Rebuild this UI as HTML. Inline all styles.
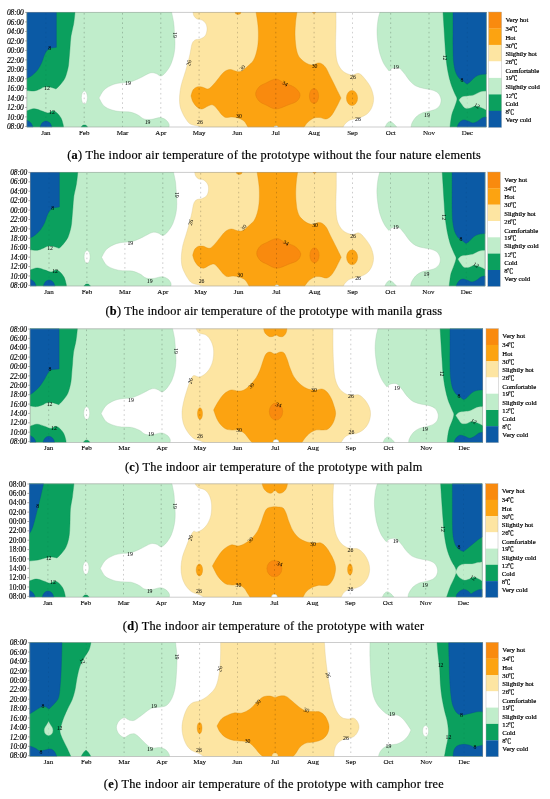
<!DOCTYPE html>
<html lang="en"><head><meta charset="utf-8"><title>Indoor air temperature of the prototype</title>
<style>
html,body{margin:0;padding:0;background:#fff;}
body{width:550px;height:799px;overflow:hidden;}
svg{display:block;}
text{font-family:"Liberation Serif","Noto Serif CJK SC",serif;fill:#1a1a1a;}
.yl{font-size:7.5px;font-style:italic;text-anchor:end;fill:#000;stroke:#000;stroke-width:0.15px;letter-spacing:-0.15px;}
.up{font-style:normal;letter-spacing:0;}
.ml{font-size:7px;text-anchor:middle;fill:#000;stroke:#000;stroke-width:0.1px;}
.lg{font-size:6.7px;fill:#000;stroke:#000;stroke-width:0.2px;}
.cl{font-size:5.8px;text-anchor:middle;fill:#000;}
.cap{font-size:12.3px;fill:#000;stroke:#000;stroke-width:0.18px;}
</style></head><body>
<svg width="550" height="799" viewBox="0 0 550 799">
<rect width="550" height="799" fill="#fff"/>
<clipPath id="cpa"><rect x="26.7" y="12" width="459.8" height="115.3"/></clipPath>
<g clip-path="url(#cpa)">
<rect x="26.7" y="12" width="459.8" height="115.3" fill="#fff"/>
<path d="M26.7,12L171.6,12C171.9,13.7 173.1,18.7 173.6,22C174.1,25.3 174.2,28.3 174.4,32C174.6,35.7 175.1,40.3 175,44C174.9,47.7 174.7,50.7 174,54C173.3,57.3 172.3,61 171,64C169.7,67 167.7,70 166,72C164.3,74 162.7,75.8 161,76C159.3,76.2 157.8,74 156,73.5C154.2,73 152.7,72.2 150,73C147.3,73.8 143.3,76.5 140,78C136.7,79.5 133.3,81.2 130,82C126.7,82.8 123,82.5 120,83C117,83.5 114.7,83.8 112,85C109.3,86.2 106.2,87.8 104,90C101.8,92.2 99.8,96.7 99,98C99.8,99.3 101.8,104 104,106C106.2,108 109.3,109.1 112,110C114.7,110.9 117,111.3 120,111.6C123,111.9 127,111.4 130,112C133,112.6 135.7,113.8 138,115C140.3,116.2 141.7,118.3 144,119C146.3,119.7 149.3,119.5 152,119.3C154.7,119.1 157.7,117.5 160,117.6C162.3,117.7 164.5,118.9 166,120C167.5,121.1 168.5,122.8 169,124C169.5,125.2 169,126.8 169,127.3L26.7,127.3Z" fill="#c0edcb" stroke="#a5cbae" stroke-width="0.35"/>
<ellipse cx="84.4" cy="97.6" rx="3" ry="6.5" fill="#fff" stroke="#a5cbae" stroke-width="0.35"/>
<path d="M380,12C379.7,13.3 378.5,16.7 378,20C377.5,23.3 377,28 377,32C377,36 377.5,40.3 378,44C378.5,47.7 379,50.7 380,54C381,57.3 382.5,61.2 384,64C385.5,66.8 388.2,69.8 389,71C389.7,70.5 391.3,68.5 393,68C394.7,67.5 397.2,67.2 399,68C400.8,68.8 402.2,70.8 404,73C405.8,75.2 408,78.8 410,81C412,83.2 413.7,84.8 416,86C418.3,87.2 421.3,87.8 424,88.5C426.7,89.2 429.7,89.2 432,90C434.3,90.8 436.5,91.5 438,93C439.5,94.5 440.7,97 441,99C441.3,101 440.8,103.3 440,105C439.2,106.7 437.7,108 436,109C434.3,110 432.3,110.3 430,111C427.7,111.7 424.3,112 422,113C419.7,114 417.7,115.3 416,117C414.3,118.7 412.8,121.3 412,123C411.2,124.7 411.2,126.6 411,127.3L486.5,127.3L486.5,12Z" fill="#c0edcb" stroke="#a5cbae" stroke-width="0.35"/>
<path d="M385,127.3C385.3,126.7 386.2,124.5 387,123.5C387.8,122.5 388.9,121.6 390,121.6C391.1,121.6 392.3,122.5 393.5,123.5C394.7,124.5 396.4,126.7 397,127.3Z" fill="#c0edcb" stroke="#a5cbae" stroke-width="0.35"/>
<path d="M193,12C193.2,12.7 193.3,14.8 194,16C194.7,17.2 195.7,18.3 197,19C198.3,19.7 200.5,19.2 202,20C203.5,20.8 205.2,22.3 206,24C206.8,25.7 207.2,28 207,30C206.8,32 206.2,34.5 205,36C203.8,37.5 201.7,38.3 200,39C198.3,39.7 196.3,39.2 195,40C193.7,40.8 192.8,41.7 192,44C191.2,46.3 190.8,50.3 190,54C189.2,57.7 188,62.3 187,66C186,69.7 185,72.7 184,76C183,79.3 181.7,82.7 181,86C180.3,89.3 179.8,92.7 179.6,96C179.4,99.3 179.4,103 180,106C180.6,109 181.7,111.3 183,114C184.3,116.7 186.5,120.2 188,122C189.5,123.8 190.5,124.2 192,124.8C193.5,125.4 195.3,125.4 197,125.8C198.7,126.2 201.2,127 202,127.3L343,127.3C343.3,126.8 343.8,125.2 345,124C346.2,122.8 347.7,121 350,120C352.3,119 356.2,119 359,118C361.8,117 364.8,115.8 367,114C369.2,112.2 370.9,109.7 372,107C373.1,104.3 373.8,101.2 373.6,98C373.4,94.8 372.4,91.2 371,88C369.6,84.8 367,81.4 365,79C363,76.6 361.2,74.2 359,73.5C356.8,72.8 354.5,75.2 352,75C349.5,74.8 346.2,73.5 344,72C341.8,70.5 340.3,68.3 339,66C337.7,63.7 337,61.7 336.4,58C335.8,54.3 335.7,49 335.6,44C335.5,39 335.9,33.3 336,28C336.1,22.7 336,14.7 336,12Z" fill="#fde5a2" stroke="#d9c48b" stroke-width="0.35"/>
<path d="M191,96C191.3,95 192,91.5 193,90C194,88.5 195.5,87.5 197,87C198.5,86.5 200.2,86.7 202,87C203.8,87.3 206.2,89.3 208,89C209.8,88.7 211.3,86.7 213,85C214.7,83.3 216.2,81.2 218,79C219.8,76.8 222,73.6 224,72C226,70.4 227.8,69.6 230,69.5C232.2,69.4 235,71.2 237,71.5C239,71.8 240.2,71.9 242,71C243.8,70.1 246.2,67.7 248,66C249.8,64.3 251.7,63 253,61C254.3,59 255.2,56.8 256,54C256.8,51.2 257.6,47.7 258,44C258.4,40.3 258.5,35.7 258.4,32C258.3,28.3 258,25.3 257.6,22C257.2,18.7 256.3,13.7 256,12L297,12C296.8,13.7 295.9,18.3 295.6,22C295.3,25.7 295,30.3 295,34C295,37.7 295.3,41 295.6,44C295.9,47 296.3,49.7 297,52C297.7,54.3 298.5,56.2 300,58C301.5,59.8 304,61.8 306,63C308,64.2 310,65 312,65C314,65 316.3,63.2 318,63C319.7,62.8 320.7,63.2 322,64C323.3,64.8 324.7,66 326,68C327.3,70 328.3,72.7 330,76C331.7,79.3 334.2,84.3 336,88C337.8,91.7 340.2,96.3 341,98C340.2,99.7 337.7,105 336,108C334.3,111 332.7,114.2 331,116C329.3,117.8 327.8,118.7 326,119C324.2,119.3 322,117.8 320,117.6C318,117.4 316,117.3 314,118C312,118.7 309.7,120.5 308,122C306.3,123.5 304.7,126.4 304,127.3L248,127.3C247.3,126.2 245.7,122.5 244,121C242.3,119.5 240,118.7 238,118C236,117.3 234,117.1 232,117C230,116.9 227.7,117.8 226,117.5C224.3,117.2 223.3,116.2 222,115C220.7,113.8 219.5,111.7 218,110C216.5,108.3 214.7,105.7 213,105C211.3,104.3 209.8,105.3 208,106C206.2,106.7 203.8,108.8 202,109C200.2,109.2 198.5,108.2 197,107C195.5,105.8 194,103.8 193,102C192,100.2 191.3,97 191,96Z" fill="#fca311" stroke="#d88c0e" stroke-width="0.35"/>
<ellipse cx="238" cy="12" rx="3" ry="2.4" fill="#fca311" stroke="#d88c0e" stroke-width="0.35"/>
<ellipse cx="314" cy="12" rx="1.6" ry="1.2" fill="#fca311" stroke="#d88c0e" stroke-width="0.35"/>
<ellipse cx="352" cy="98" rx="5.6" ry="7.6" fill="#fca311" stroke="#d88c0e" stroke-width="0.35"/>
<ellipse cx="276" cy="127.3" rx="2" ry="1.6" fill="#fff" stroke="#a5cbae" stroke-width="0.35"/>
<path d="M255.6,94C255.6,91.7 257.3,88.8 259,87C260.7,85.2 263.2,84.3 266,83C268.8,81.7 273,79 276,79C279,79 281,81.7 284,83C287,84.3 291.3,85.2 294,87C296.7,88.8 299.5,91.7 300,94C300.5,96.3 299,99.2 297,101C295,102.8 291.5,103.7 288,105C284.5,106.3 279.7,109 276,109C272.3,109 268.8,106.3 266,105C263.2,103.7 260.7,102.8 259,101C257.3,99.2 255.6,96.3 255.6,94Z" fill="#f98a0e" stroke="#d6760c" stroke-width="0.35"/>
<ellipse cx="314" cy="96" rx="4.6" ry="7.6" fill="#f98a0e" stroke="#d6760c" stroke-width="0.35"/>
<line x1="45.9" y1="13" x2="45.9" y2="127.3" stroke="#000" stroke-width="0.8" stroke-dasharray="1.6 3.1" opacity="0.19"/>
<line x1="84.2" y1="13" x2="84.2" y2="127.3" stroke="#000" stroke-width="0.8" stroke-dasharray="1.6 3.1" opacity="0.19"/>
<line x1="122.5" y1="13" x2="122.5" y2="127.3" stroke="#000" stroke-width="0.8" stroke-dasharray="1.6 3.1" opacity="0.19"/>
<line x1="160.8" y1="13" x2="160.8" y2="127.3" stroke="#000" stroke-width="0.8" stroke-dasharray="1.6 3.1" opacity="0.19"/>
<line x1="199.1" y1="13" x2="199.1" y2="127.3" stroke="#000" stroke-width="0.8" stroke-dasharray="1.6 3.1" opacity="0.19"/>
<line x1="237.4" y1="13" x2="237.4" y2="127.3" stroke="#000" stroke-width="0.8" stroke-dasharray="1.6 3.1" opacity="0.19"/>
<line x1="275.8" y1="13" x2="275.8" y2="127.3" stroke="#000" stroke-width="0.8" stroke-dasharray="1.6 3.1" opacity="0.19"/>
<line x1="314.1" y1="13" x2="314.1" y2="127.3" stroke="#000" stroke-width="0.8" stroke-dasharray="1.6 3.1" opacity="0.19"/>
<line x1="352.4" y1="13" x2="352.4" y2="127.3" stroke="#000" stroke-width="0.8" stroke-dasharray="1.6 3.1" opacity="0.19"/>
<line x1="390.7" y1="13" x2="390.7" y2="127.3" stroke="#000" stroke-width="0.8" stroke-dasharray="1.6 3.1" opacity="0.19"/>
<line x1="429" y1="13" x2="429" y2="127.3" stroke="#000" stroke-width="0.8" stroke-dasharray="1.6 3.1" opacity="0.19"/>
<line x1="467.3" y1="13" x2="467.3" y2="127.3" stroke="#000" stroke-width="0.8" stroke-dasharray="1.6 3.1" opacity="0.19"/>
<path d="M26.7,12L75,12C74.8,14 74.3,20 73.6,24C72.9,28 71.6,32 71,36C70.4,40 70.3,44 70,48C69.7,52 69.3,56.7 69,60C68.7,63.3 68.7,65 68,68C67.3,71 66.3,75.2 65,78C63.7,80.8 61.5,83.2 60,85C58.5,86.8 56.7,88.3 56,89C55,88.7 52,87.3 50,87C48,86.7 45.7,86.7 44,87C42.3,87.3 41.7,88.3 40,89C38.3,89.7 36.2,90.8 34,91C31.8,91.2 27.9,90.5 26.7,90.4Z" fill="#0ba05e" stroke="#098950" stroke-width="0.35"/>
<path d="M26.7,111C27.6,110.7 30.4,109.3 32,109C33.5,108.7 34.3,108.7 36,109C37.7,109.3 40,110.3 42,111C44,111.7 46.2,113 48,113C49.8,113 51.5,111 53,111C54.5,111 55.7,111.8 57,113C58.3,114.2 60,116.2 61,118C62,119.8 62.6,122.5 63,124C63.4,125.5 63.5,126.8 63.6,127.3L26.7,127.3Z" fill="#0ba05e" stroke="#098950" stroke-width="0.35"/>
<path d="M81,127.3C81.2,127 81.9,125.9 82.5,125.5C83.1,125.1 83.8,125 84.4,125C85,125 85.7,125.1 86.3,125.5C86.9,125.9 87.5,127 87.8,127.3Z" fill="#0ba05e" stroke="#098950" stroke-width="0.35"/>
<path d="M26.7,12L56.4,12L56.4,47.3L51,48C50.3,48.4 48.2,49.2 47,50.5C45.8,51.8 44.9,53.9 44,56C43.1,58.1 42.6,60.7 41.5,63C40.4,65.3 39.1,67.9 37.5,70C35.9,72.1 33.8,74.1 32,75.5C30.2,76.9 27.6,78 26.7,78.5Z" fill="#0b5aa5" stroke="#094d8d" stroke-width="0.35"/>
<path d="M26.7,120C27.4,120.5 29.9,121.8 31,123C32,124.2 32.7,126.6 33,127.3L26.7,127.3Z" fill="#0b5aa5" stroke="#094d8d" stroke-width="0.35"/>
<path d="M40,127.3C40.3,126.6 41,124 42,123C43,122 44.7,121 46,121C47.3,121 49,122 50,123C51,124 51.7,126.6 52,127.3Z" fill="#0b5aa5" stroke="#094d8d" stroke-width="0.35"/>
<path d="M443,12C443.2,14.7 443.7,22.7 444,28C444.3,33.3 444.7,39 445,44C445.3,49 445.5,53.3 446,58C446.5,62.7 447.2,67.7 448,72C448.8,76.3 449.8,80.3 451,84C452.2,87.7 454,91.5 455,94C456,96.5 457,97 457,99C457,101 455.8,103.5 455,106C454.2,108.5 452.7,111.3 452,114C451.3,116.7 450.9,119.8 450.6,122C450.3,124.2 450.1,126.4 450,127.3L486.5,127.3L486.5,12Z" fill="#0ba05e" stroke="#098950" stroke-width="0.35"/>
<path d="M453,12C453,14.7 453,22 453,28C453,34 452.9,42.3 453,48C453.1,53.7 453.2,58 453.6,62C454,66 454.7,69.3 455.6,72C456.5,74.7 457.8,76.5 459,78C460.2,79.5 461.7,80 463,81C464.3,82 466.3,83.5 467,84C467.5,83.7 468.8,83 470,82C471.2,81 472.5,79.2 474,78C475.5,76.8 476.9,75.7 479,75C481.1,74.3 485.2,74.2 486.5,74L486.5,12Z" fill="#0b5aa5" stroke="#094d8d" stroke-width="0.35"/>
<path d="M459,100C459.5,99.5 460.5,97.7 462,97C463.5,96.3 466,96.3 468,96C470,95.7 472,95.7 474,95C476,94.3 477.9,92.7 480,92C482.1,91.3 485.4,91.2 486.5,91L486.5,110C485.4,109.5 481.9,107.7 480,107C478.1,106.3 476.7,105.8 475,106C473.3,106.2 471.7,107.7 470,108C468.3,108.3 466.4,108.7 465,108C463.6,107.3 462.6,105.3 461.6,104C460.6,102.7 459.4,100.7 459,100Z" fill="#c0edcb" stroke="#a5cbae" stroke-width="0.35"/>
<path d="M457,127.3C457.3,126.6 458,124.2 459,123C460,121.8 461.5,120.3 463,120C464.5,119.7 466.3,120.5 468,121C469.7,121.5 471.3,123 473,123C474.7,123 476.5,121.8 478,121C479.5,120.2 480.6,118.7 482,118C483.4,117.3 485.8,117.2 486.5,117L486.5,127.3Z" fill="#0b5aa5" stroke="#094d8d" stroke-width="0.35"/>
<text class="cl" x="49.6" y="49.8">8</text>
<text class="cl" x="47" y="90.4">12</text>
<text class="cl" x="52" y="113.8">12</text>
<text class="cl" x="128" y="85.3">19</text>
<text class="cl" x="174.5" y="36.8" transform="rotate(90 174.5 35)">19</text>
<text class="cl" x="147.6" y="123.8">19</text>
<text class="cl" x="189" y="64.8" transform="rotate(-75 189 63)">26</text>
<text class="cl" x="200" y="123.8">26</text>
<text class="cl" x="242.6" y="69.8" transform="rotate(-45 242.6 68)">30</text>
<text class="cl" x="239" y="118.2">30</text>
<text class="cl" x="285" y="85.4" transform="rotate(30 285 83.6)">34</text>
<text class="cl" x="314.6" y="67.8">30</text>
<text class="cl" x="353" y="78.8">26</text>
<text class="cl" x="358" y="120.8">26</text>
<text class="cl" x="396" y="69.4">19</text>
<text class="cl" x="427" y="117.2">19</text>
<text class="cl" x="445" y="59.4" transform="rotate(90 445 57.6)">12</text>
<text class="cl" x="462" y="81.8">8</text>
<text class="cl" x="477" y="107.8" transform="rotate(30 477 106)">12</text>
<line x1="45.9" y1="13" x2="45.9" y2="127.3" stroke="#000" stroke-width="0.8" stroke-dasharray="1.6 3.1" opacity="0.07"/>
<line x1="84.2" y1="13" x2="84.2" y2="127.3" stroke="#000" stroke-width="0.8" stroke-dasharray="1.6 3.1" opacity="0.07"/>
<line x1="122.5" y1="13" x2="122.5" y2="127.3" stroke="#000" stroke-width="0.8" stroke-dasharray="1.6 3.1" opacity="0.07"/>
<line x1="160.8" y1="13" x2="160.8" y2="127.3" stroke="#000" stroke-width="0.8" stroke-dasharray="1.6 3.1" opacity="0.07"/>
<line x1="199.1" y1="13" x2="199.1" y2="127.3" stroke="#000" stroke-width="0.8" stroke-dasharray="1.6 3.1" opacity="0.07"/>
<line x1="237.4" y1="13" x2="237.4" y2="127.3" stroke="#000" stroke-width="0.8" stroke-dasharray="1.6 3.1" opacity="0.07"/>
<line x1="275.8" y1="13" x2="275.8" y2="127.3" stroke="#000" stroke-width="0.8" stroke-dasharray="1.6 3.1" opacity="0.07"/>
<line x1="314.1" y1="13" x2="314.1" y2="127.3" stroke="#000" stroke-width="0.8" stroke-dasharray="1.6 3.1" opacity="0.07"/>
<line x1="352.4" y1="13" x2="352.4" y2="127.3" stroke="#000" stroke-width="0.8" stroke-dasharray="1.6 3.1" opacity="0.07"/>
<line x1="390.7" y1="13" x2="390.7" y2="127.3" stroke="#000" stroke-width="0.8" stroke-dasharray="1.6 3.1" opacity="0.07"/>
<line x1="429" y1="13" x2="429" y2="127.3" stroke="#000" stroke-width="0.8" stroke-dasharray="1.6 3.1" opacity="0.07"/>
<line x1="467.3" y1="13" x2="467.3" y2="127.3" stroke="#000" stroke-width="0.8" stroke-dasharray="1.6 3.1" opacity="0.07"/>
</g>
<rect x="26.9" y="12.2" width="459.3" height="114.8" fill="none" stroke="#9a9a9a" stroke-width="0.5"/>
<line x1="25.1" y1="12.4" x2="26.7" y2="12.4" stroke="#555" stroke-width="0.5"/>
<text class="yl" x="23.7" y="15">08:00</text>
<line x1="25.1" y1="21.9" x2="26.7" y2="21.9" stroke="#555" stroke-width="0.5"/>
<text class="yl" x="23.7" y="24.5">06:00</text>
<line x1="25.1" y1="31.4" x2="26.7" y2="31.4" stroke="#555" stroke-width="0.5"/>
<text class="yl" x="23.7" y="34">04:00</text>
<line x1="25.1" y1="40.9" x2="26.7" y2="40.9" stroke="#555" stroke-width="0.5"/>
<text class="yl" x="23.7" y="43.5">02:00</text>
<line x1="25.1" y1="50.4" x2="26.7" y2="50.4" stroke="#555" stroke-width="0.5"/>
<text class="yl" x="23.7" y="53">00:00</text>
<line x1="25.1" y1="59.9" x2="26.7" y2="59.9" stroke="#555" stroke-width="0.5"/>
<text class="yl" x="23.7" y="62.5">22:00</text>
<line x1="25.1" y1="69.4" x2="26.7" y2="69.4" stroke="#555" stroke-width="0.5"/>
<text class="yl" x="23.7" y="72">20:00</text>
<line x1="25.1" y1="78.9" x2="26.7" y2="78.9" stroke="#555" stroke-width="0.5"/>
<text class="yl" x="23.7" y="81.5">18:00</text>
<line x1="25.1" y1="88.4" x2="26.7" y2="88.4" stroke="#555" stroke-width="0.5"/>
<text class="yl" x="23.7" y="91">16:00</text>
<line x1="25.1" y1="97.9" x2="26.7" y2="97.9" stroke="#555" stroke-width="0.5"/>
<text class="yl" x="23.7" y="100.5">14:00</text>
<line x1="25.1" y1="107.4" x2="26.7" y2="107.4" stroke="#555" stroke-width="0.5"/>
<text class="yl" x="23.7" y="110">12:00</text>
<line x1="25.1" y1="116.9" x2="26.7" y2="116.9" stroke="#555" stroke-width="0.5"/>
<text class="yl" x="23.7" y="119.5">10:00</text>
<line x1="25.1" y1="126.4" x2="26.7" y2="126.4" stroke="#555" stroke-width="0.5"/>
<text class="yl" x="23.7" y="129">08:00</text>
<text class="ml" x="45.9" y="134.9">Jan</text>
<text class="ml" x="84.2" y="134.9">Feb</text>
<text class="ml" x="122.5" y="134.9">Mar</text>
<text class="ml" x="160.8" y="134.9">Apr</text>
<text class="ml" x="199.1" y="134.9">May</text>
<text class="ml" x="237.4" y="134.9">Jun</text>
<text class="ml" x="275.8" y="134.9">Jul</text>
<text class="ml" x="314.1" y="134.9">Aug</text>
<text class="ml" x="352.4" y="134.9">Sep</text>
<text class="ml" x="390.7" y="134.9">Oct</text>
<text class="ml" x="429" y="134.9">Nov</text>
<text class="ml" x="467.3" y="134.9">Dec</text>
<rect x="488.6" y="12" width="13" height="16.7" fill="#f98a0e"/>
<rect x="488.6" y="28.5" width="13" height="16.7" fill="#fca311"/>
<rect x="488.6" y="44.9" width="13" height="16.7" fill="#fde5a2"/>
<rect x="488.6" y="61.4" width="13" height="16.7" fill="#ffffff"/>
<rect x="488.6" y="77.9" width="13" height="16.7" fill="#c0edcb"/>
<rect x="488.6" y="94.4" width="13" height="16.7" fill="#0ba05e"/>
<rect x="488.6" y="110.8" width="13" height="16.7" fill="#0b5aa5"/>
<rect x="488.6" y="12" width="13" height="115.3" fill="none" stroke="#aaa" stroke-width="0.4"/>
<text class="lg" x="505.4" y="21.6">Very hot</text>
<text class="lg" x="505.4" y="30.6">34<tspan dx="-0.7" font-size="6">℃</tspan></text>
<text class="lg" x="505.4" y="39.6">Hot</text>
<text class="lg" x="505.4" y="47.6">30<tspan dx="-0.7" font-size="6">℃</tspan></text>
<text class="lg" x="505.4" y="56">Slightly hot</text>
<text class="lg" x="505.4" y="64">26<tspan dx="-0.7" font-size="6">℃</tspan></text>
<text class="lg" x="505.4" y="73">Comfortable</text>
<text class="lg" x="505.4" y="80.4">19<tspan dx="-0.7" font-size="6">℃</tspan></text>
<text class="lg" x="505.4" y="88.9">Slightly cold</text>
<text class="lg" x="505.4" y="97.6">12<tspan dx="-0.7" font-size="6">℃</tspan></text>
<text class="lg" x="505.4" y="105.5">Cold</text>
<text class="lg" x="505.4" y="113.6">8<tspan dx="-0.7" font-size="6">℃</tspan></text>
<text class="lg" x="505.4" y="122">Very cold</text>
<clipPath id="cpb"><rect x="30" y="172" width="455.3" height="114.3"/></clipPath>
<g clip-path="url(#cpb)">
<rect x="30" y="172" width="455.3" height="114.3" fill="#fff"/>
<path d="M30,172L173.5,172C173.8,173.7 175,178.6 175.5,181.9C175.9,185.2 176,188.2 176.3,191.8C176.5,195.5 176.9,200.1 176.8,203.7C176.8,207.4 176.5,210.3 175.9,213.6C175.2,216.9 174.2,220.6 172.9,223.5C171.6,226.5 169.6,229.5 167.9,231.5C166.3,233.5 164.6,235.2 163,235.4C161.3,235.7 159.8,233.5 158,233C156.2,232.5 154.7,231.7 152.1,232.5C149.5,233.2 145.5,235.9 142.2,237.4C138.9,238.9 135.6,240.6 132.3,241.4C129,242.2 125.4,241.9 122.4,242.4C119.4,242.9 117.1,243.2 114.5,244.4C111.8,245.5 108.7,247.2 106.5,249.3C104.4,251.5 102.4,255.9 101.6,257.3C102.4,258.6 104.4,263.2 106.5,265.2C108.7,267.2 111.8,268.2 114.5,269.2C117.1,270.1 119.4,270.4 122.4,270.7C125.4,271.1 129.3,270.6 132.3,271.1C135.3,271.7 137.9,273 140.2,274.1C142.5,275.3 143.8,277.4 146.2,278.1C148.5,278.8 151.4,278.6 154.1,278.4C156.7,278.1 159.7,276.6 162,276.7C164.3,276.8 166.5,278 167.9,279.1C169.4,280.1 170.4,281.8 170.9,283C171.4,284.2 170.9,285.8 170.9,286.3L30,286.3Z" fill="#c0edcb" stroke="#a5cbae" stroke-width="0.35"/>
<ellipse cx="87.1" cy="256.9" rx="3" ry="6.4" fill="#fff" stroke="#a5cbae" stroke-width="0.35"/>
<path d="M379.8,172C379.5,173.3 378.4,176.6 377.9,179.9C377.4,183.2 376.9,187.9 376.9,191.8C376.9,195.8 377.4,200.1 377.9,203.7C378.4,207.4 378.9,210.3 379.8,213.6C380.8,216.9 382.3,220.7 383.8,223.5C385.3,226.4 387.9,229.3 388.8,230.5C389.4,230 391.1,228 392.7,227.5C394.4,227 396.8,226.7 398.7,227.5C400.5,228.3 401.8,230.3 403.6,232.5C405.4,234.6 407.6,238.3 409.5,240.4C411.5,242.5 413.2,244.1 415.5,245.4C417.8,246.6 420.8,247.2 423.4,247.8C426.1,248.5 429,248.6 431.3,249.3C433.6,250.1 435.8,250.8 437.3,252.3C438.8,253.8 439.9,256.3 440.2,258.2C440.6,260.2 440.1,262.5 439.3,264.2C438.4,265.8 436.9,267.2 435.3,268.2C433.6,269.2 431.7,269.5 429.4,270.1C427,270.8 423.7,271.1 421.4,272.1C419.1,273.1 417.1,274.4 415.5,276.1C413.8,277.7 412.4,280.3 411.5,282C410.7,283.7 410.7,285.6 410.5,286.3L485.3,286.3L485.3,172Z" fill="#c0edcb" stroke="#a5cbae" stroke-width="0.35"/>
<path d="M384.8,286.3C385.1,285.7 385.9,283.5 386.8,282.5C387.6,281.6 388.7,280.6 389.7,280.6C390.8,280.6 392.1,281.6 393.2,282.5C394.4,283.5 396.1,285.7 396.7,286.3Z" fill="#c0edcb" stroke="#a5cbae" stroke-width="0.35"/>
<path d="M194.7,172C194.8,172.7 195,174.8 195.7,176C196.3,177.1 197.3,178.3 198.6,178.9C200,179.6 202.1,179.1 203.6,179.9C205.1,180.8 206.7,182.2 207.5,183.9C208.4,185.5 208.7,187.9 208.5,189.8C208.4,191.8 207.7,194.3 206.6,195.8C205.4,197.3 203.3,198.1 201.6,198.8C200,199.4 198,198.9 196.7,199.8C195.3,200.6 194.5,201.4 193.7,203.7C192.9,206 192.5,210 191.7,213.6C190.9,217.3 189.7,221.9 188.7,225.5C187.7,229.2 186.8,232.1 185.8,235.4C184.8,238.7 183.5,242.1 182.8,245.4C182.1,248.7 181.6,252 181.4,255.3C181.2,258.6 181.2,262.2 181.8,265.2C182.4,268.2 183.5,270.5 184.8,273.1C186.1,275.8 188.2,279.3 189.7,281C191.2,282.8 192.2,283.2 193.7,283.8C195.2,284.4 197,284.4 198.6,284.8C200.3,285.2 202.8,286.1 203.6,286.3L343.2,286.3C343.5,285.8 344,284.2 345.2,283C346.3,281.8 347.8,280.1 350.1,279.1C352.4,278.1 356.2,278.1 359,277.1C361.9,276.1 364.8,274.9 367,273.1C369.1,271.3 370.8,268.8 371.9,266.2C373,263.5 373.7,260.4 373.5,257.3C373.3,254.1 372.3,250.5 370.9,247.3C369.5,244.2 367,240.8 365,238.4C363,236 361.2,233.6 359,233C356.9,232.3 354.6,234.7 352.1,234.5C349.6,234.2 346.3,233 344.2,231.5C342,230 340.5,227.8 339.2,225.5C338,223.2 337.2,221.2 336.7,217.6C336.1,214 335.9,208.7 335.9,203.7C335.8,198.8 336.2,193.1 336.3,187.9C336.3,182.6 336.3,174.6 336.3,172Z" fill="#fde5a2" stroke="#d9c48b" stroke-width="0.35"/>
<path d="M192.7,255.3C193,254.3 193.7,250.8 194.7,249.3C195.7,247.8 197.1,246.8 198.6,246.3C200.1,245.9 201.8,246 203.6,246.3C205.4,246.7 207.7,248.7 209.5,248.3C211.3,248 212.8,246 214.5,244.4C216.1,242.7 217.6,240.6 219.4,238.4C221.2,236.3 223.4,233 225.4,231.5C227.3,229.9 229.2,229.1 231.3,229C233.5,228.9 236.3,230.7 238.2,231C240.2,231.2 241.4,231.4 243.2,230.5C245,229.6 247.3,227.2 249.1,225.5C250.9,223.9 252.8,222.6 254.1,220.6C255.4,218.6 256.2,216.4 257.1,213.6C257.9,210.8 258.6,207.4 259,203.7C259.4,200.1 259.5,195.5 259.4,191.8C259.4,188.2 259,185.2 258.6,181.9C258.2,178.6 257.3,173.7 257.1,172L297.7,172C297.4,173.7 296.6,178.3 296.3,181.9C295.9,185.5 295.7,190.2 295.7,193.8C295.7,197.4 295.9,200.7 296.3,203.7C296.6,206.7 296.9,209.3 297.7,211.7C298.4,214 299.1,215.8 300.6,217.6C302.1,219.4 304.6,221.4 306.6,222.6C308.5,223.7 310.5,224.5 312.5,224.5C314.5,224.5 316.8,222.7 318.4,222.6C320.1,222.4 321.1,222.7 322.4,223.5C323.7,224.4 325.1,225.5 326.4,227.5C327.7,229.5 328.7,232.1 330.3,235.4C332,238.7 334.5,243.7 336.3,247.3C338.1,251 340.4,255.6 341.2,257.3C340.4,258.9 337.9,264.2 336.3,267.2C334.6,270.1 333,273.3 331.3,275.1C329.7,276.9 328.2,277.8 326.4,278.1C324.6,278.3 322.4,276.8 320.4,276.7C318.4,276.5 316.5,276.4 314.5,277.1C312.5,277.8 310.2,279.5 308.5,281C306.9,282.6 305.2,285.4 304.6,286.3L249.1,286.3C248.5,285.3 246.8,281.6 245.2,280.1C243.5,278.5 241.2,277.7 239.2,277.1C237.3,276.4 235.3,276.2 233.3,276.1C231.3,276 229,276.9 227.3,276.6C225.7,276.3 224.7,275.3 223.4,274.1C222.1,272.9 220.9,270.8 219.4,269.2C217.9,267.5 216.1,264.9 214.5,264.2C212.8,263.5 211.3,264.5 209.5,265.2C207.7,265.8 205.4,268 203.6,268.2C201.8,268.3 200.1,267.3 198.6,266.2C197.1,265 195.7,263 194.7,261.2C193.7,259.4 193,256.3 192.7,255.3Z" fill="#fca311" stroke="#d88c0e" stroke-width="0.35"/>
<ellipse cx="239.2" cy="172" rx="3" ry="2.4" fill="#fca311" stroke="#d88c0e" stroke-width="0.35"/>
<ellipse cx="314.5" cy="172" rx="1.6" ry="1.2" fill="#fca311" stroke="#d88c0e" stroke-width="0.35"/>
<ellipse cx="352.1" cy="257.3" rx="5.5" ry="7.5" fill="#fca311" stroke="#d88c0e" stroke-width="0.35"/>
<ellipse cx="276.9" cy="286.3" rx="2" ry="1.6" fill="#fff" stroke="#a5cbae" stroke-width="0.35"/>
<path d="M256.7,253.3C256.7,251 258.3,248.2 260,246.3C261.7,244.5 264.2,243.7 267,242.4C269.8,241.1 273.9,238.4 276.9,238.4C279.8,238.4 281.8,241.1 284.8,242.4C287.8,243.7 292,244.5 294.7,246.3C297.3,248.2 300.1,251 300.6,253.3C301.1,255.6 299.6,258.4 297.7,260.2C295.7,262 292.2,262.9 288.7,264.2C285.3,265.5 280.5,268.2 276.9,268.2C273.2,268.2 269.8,265.5 267,264.2C264.2,262.9 261.7,262 260,260.2C258.3,258.4 256.7,255.6 256.7,253.3Z" fill="#f98a0e" stroke="#d6760c" stroke-width="0.35"/>
<ellipse cx="314.5" cy="255.3" rx="4.6" ry="7.5" fill="#f98a0e" stroke="#d6760c" stroke-width="0.35"/>
<line x1="49" y1="173" x2="49" y2="286.3" stroke="#000" stroke-width="0.8" stroke-dasharray="1.6 3.1" opacity="0.19"/>
<line x1="86.9" y1="173" x2="86.9" y2="286.3" stroke="#000" stroke-width="0.8" stroke-dasharray="1.6 3.1" opacity="0.19"/>
<line x1="124.9" y1="173" x2="124.9" y2="286.3" stroke="#000" stroke-width="0.8" stroke-dasharray="1.6 3.1" opacity="0.19"/>
<line x1="162.8" y1="173" x2="162.8" y2="286.3" stroke="#000" stroke-width="0.8" stroke-dasharray="1.6 3.1" opacity="0.19"/>
<line x1="200.7" y1="173" x2="200.7" y2="286.3" stroke="#000" stroke-width="0.8" stroke-dasharray="1.6 3.1" opacity="0.19"/>
<line x1="238.7" y1="173" x2="238.7" y2="286.3" stroke="#000" stroke-width="0.8" stroke-dasharray="1.6 3.1" opacity="0.19"/>
<line x1="276.6" y1="173" x2="276.6" y2="286.3" stroke="#000" stroke-width="0.8" stroke-dasharray="1.6 3.1" opacity="0.19"/>
<line x1="314.6" y1="173" x2="314.6" y2="286.3" stroke="#000" stroke-width="0.8" stroke-dasharray="1.6 3.1" opacity="0.19"/>
<line x1="352.5" y1="173" x2="352.5" y2="286.3" stroke="#000" stroke-width="0.8" stroke-dasharray="1.6 3.1" opacity="0.19"/>
<line x1="390.4" y1="173" x2="390.4" y2="286.3" stroke="#000" stroke-width="0.8" stroke-dasharray="1.6 3.1" opacity="0.19"/>
<line x1="428.4" y1="173" x2="428.4" y2="286.3" stroke="#000" stroke-width="0.8" stroke-dasharray="1.6 3.1" opacity="0.19"/>
<line x1="466.3" y1="173" x2="466.3" y2="286.3" stroke="#000" stroke-width="0.8" stroke-dasharray="1.6 3.1" opacity="0.19"/>
<path d="M30,172L77.8,172C77.6,174 77.1,179.9 76.4,183.9C75.8,187.9 74.5,191.8 73.9,195.8C73.3,199.8 73.2,203.7 72.9,207.7C72.5,211.7 72.2,216.3 71.9,219.6C71.6,222.9 71.6,224.5 70.9,227.5C70.2,230.5 69.2,234.6 67.9,237.4C66.6,240.2 64.5,242.5 63,244.4C61.5,246.2 59.7,247.7 59,248.3C58,248 55.1,246.7 53.1,246.3C51.1,246 48.8,246 47.1,246.3C45.5,246.7 44.8,247.7 43.2,248.3C41.5,249 39.4,250.1 37.2,250.3C35,250.5 31.2,249.8 30,249.7Z" fill="#0ba05e" stroke="#098950" stroke-width="0.35"/>
<path d="M30,270.1C30.9,269.8 33.7,268.5 35.2,268.2C36.8,267.8 37.6,267.8 39.2,268.2C40.9,268.5 43.2,269.5 45.2,270.1C47.1,270.8 49.3,272.1 51.1,272.1C52.9,272.1 54.6,270.1 56,270.1C57.5,270.1 58.7,271 60,272.1C61.3,273.3 63,275.3 64,277.1C65,278.9 65.5,281.5 65.9,283C66.4,284.6 66.4,285.8 66.5,286.3L30,286.3Z" fill="#0ba05e" stroke="#098950" stroke-width="0.35"/>
<path d="M83.8,286.3C84,286 84.7,284.9 85.3,284.5C85.8,284.1 86.5,284 87.1,284C87.8,284 88.5,284.1 89,284.5C89.6,284.9 90.3,286 90.5,286.3Z" fill="#0ba05e" stroke="#098950" stroke-width="0.35"/>
<path d="M30,172L59.4,172L59.4,207L54.1,207.7C53.4,208.1 51.3,208.8 50.1,210.2C48.9,211.5 48,213.6 47.1,215.6C46.2,217.7 45.7,220.2 44.7,222.6C43.6,224.9 42.3,227.4 40.7,229.5C39.1,231.6 37,233.5 35.2,234.9C33.5,236.4 30.9,237.4 30,237.9Z" fill="#0b5aa5" stroke="#094d8d" stroke-width="0.35"/>
<path d="M30,279.1C30.7,279.6 33.2,280.8 34.3,282C35.3,283.2 35.9,285.6 36.2,286.3L30,286.3Z" fill="#0b5aa5" stroke="#094d8d" stroke-width="0.35"/>
<path d="M43.2,286.3C43.5,285.6 44.2,283.1 45.2,282C46.1,281 47.8,280.1 49.1,280.1C50.4,280.1 52.1,281 53.1,282C54.1,283.1 54.7,285.6 55.1,286.3Z" fill="#0b5aa5" stroke="#094d8d" stroke-width="0.35"/>
<path d="M442.2,172C442.4,174.6 442.9,182.6 443.2,187.9C443.5,193.1 443.9,198.8 444.2,203.7C444.5,208.7 444.7,213 445.2,217.6C445.7,222.2 446.4,227.2 447.2,231.5C448,235.8 449,239.7 450.1,243.4C451.3,247 453.1,250.8 454.1,253.3C455.1,255.8 456.1,256.3 456.1,258.2C456.1,260.2 454.9,262.7 454.1,265.2C453.3,267.7 451.9,270.5 451.1,273.1C450.4,275.8 450.1,278.8 449.8,281C449.4,283.2 449.3,285.4 449.2,286.3L485.3,286.3L485.3,172Z" fill="#0ba05e" stroke="#098950" stroke-width="0.35"/>
<path d="M452.1,172C452.1,174.6 452.1,181.9 452.1,187.9C452.1,193.8 452,202.1 452.1,207.7C452.2,213.3 452.3,217.6 452.7,221.6C453.2,225.5 453.8,228.8 454.7,231.5C455.6,234.1 456.8,235.9 458.1,237.4C459.3,238.9 460.7,239.4 462,240.4C463.4,241.4 465.3,242.9 466,243.4C466.5,243 467.8,242.4 469,241.4C470.1,240.4 471.4,238.6 472.9,237.4C474.4,236.3 475.8,235.1 477.9,234.5C479.9,233.8 484.1,233.6 485.3,233.5L485.3,172Z" fill="#0b5aa5" stroke="#094d8d" stroke-width="0.35"/>
<path d="M458.1,259.2C458.6,258.7 459.6,256.9 461,256.3C462.5,255.6 465,255.6 467,255.3C469,254.9 470.9,254.9 472.9,254.3C474.9,253.6 476.8,252 478.9,251.3C480.9,250.6 484.2,250.5 485.3,250.3L485.3,269.2C484.2,268.7 480.8,266.8 478.9,266.2C477,265.5 475.6,265 473.9,265.2C472.3,265.3 470.6,266.8 469,267.2C467.3,267.5 465.4,267.8 464,267.2C462.6,266.5 461.6,264.5 460.6,263.2C459.7,261.9 458.5,259.9 458.1,259.2Z" fill="#c0edcb" stroke="#a5cbae" stroke-width="0.35"/>
<path d="M456.1,286.3C456.4,285.6 457.1,283.2 458.1,282C459.1,280.8 460.5,279.4 462,279.1C463.5,278.7 465.3,279.6 467,280.1C468.6,280.6 470.3,282 471.9,282C473.6,282 475.4,280.9 476.9,280.1C478.4,279.2 479.4,277.7 480.8,277.1C482.2,276.4 484.6,276.3 485.3,276.1L485.3,286.3Z" fill="#0b5aa5" stroke="#094d8d" stroke-width="0.35"/>
<text class="cl" x="52.7" y="209.5">8</text>
<text class="cl" x="50.1" y="249.7">12</text>
<text class="cl" x="55.1" y="272.9">12</text>
<text class="cl" x="130.3" y="244.7">19</text>
<text class="cl" x="176.4" y="196.6" transform="rotate(90 176.4 194.8)">19</text>
<text class="cl" x="149.7" y="282.8">19</text>
<text class="cl" x="190.7" y="224.4" transform="rotate(-75 190.7 222.6)">26</text>
<text class="cl" x="201.6" y="282.8">26</text>
<text class="cl" x="243.8" y="229.3" transform="rotate(-45 243.8 227.5)">30</text>
<text class="cl" x="240.2" y="277.3">30</text>
<text class="cl" x="285.8" y="244.8" transform="rotate(30 285.8 243)">34</text>
<text class="cl" x="315.1" y="227.3">30</text>
<text class="cl" x="353.1" y="238.2">26</text>
<text class="cl" x="358.1" y="279.9">26</text>
<text class="cl" x="395.7" y="228.9">19</text>
<text class="cl" x="426.4" y="276.3">19</text>
<text class="cl" x="444.2" y="219" transform="rotate(90 444.2 217.2)">12</text>
<text class="cl" x="461" y="241.2">8</text>
<text class="cl" x="475.9" y="267" transform="rotate(30 475.9 265.2)">12</text>
<line x1="49" y1="173" x2="49" y2="286.3" stroke="#000" stroke-width="0.8" stroke-dasharray="1.6 3.1" opacity="0.07"/>
<line x1="86.9" y1="173" x2="86.9" y2="286.3" stroke="#000" stroke-width="0.8" stroke-dasharray="1.6 3.1" opacity="0.07"/>
<line x1="124.9" y1="173" x2="124.9" y2="286.3" stroke="#000" stroke-width="0.8" stroke-dasharray="1.6 3.1" opacity="0.07"/>
<line x1="162.8" y1="173" x2="162.8" y2="286.3" stroke="#000" stroke-width="0.8" stroke-dasharray="1.6 3.1" opacity="0.07"/>
<line x1="200.7" y1="173" x2="200.7" y2="286.3" stroke="#000" stroke-width="0.8" stroke-dasharray="1.6 3.1" opacity="0.07"/>
<line x1="238.7" y1="173" x2="238.7" y2="286.3" stroke="#000" stroke-width="0.8" stroke-dasharray="1.6 3.1" opacity="0.07"/>
<line x1="276.6" y1="173" x2="276.6" y2="286.3" stroke="#000" stroke-width="0.8" stroke-dasharray="1.6 3.1" opacity="0.07"/>
<line x1="314.6" y1="173" x2="314.6" y2="286.3" stroke="#000" stroke-width="0.8" stroke-dasharray="1.6 3.1" opacity="0.07"/>
<line x1="352.5" y1="173" x2="352.5" y2="286.3" stroke="#000" stroke-width="0.8" stroke-dasharray="1.6 3.1" opacity="0.07"/>
<line x1="390.4" y1="173" x2="390.4" y2="286.3" stroke="#000" stroke-width="0.8" stroke-dasharray="1.6 3.1" opacity="0.07"/>
<line x1="428.4" y1="173" x2="428.4" y2="286.3" stroke="#000" stroke-width="0.8" stroke-dasharray="1.6 3.1" opacity="0.07"/>
<line x1="466.3" y1="173" x2="466.3" y2="286.3" stroke="#000" stroke-width="0.8" stroke-dasharray="1.6 3.1" opacity="0.07"/>
</g>
<rect x="30.2" y="172.2" width="454.8" height="113.8" fill="none" stroke="#9a9a9a" stroke-width="0.5"/>
<line x1="28.4" y1="172.4" x2="30" y2="172.4" stroke="#555" stroke-width="0.5"/>
<text class="yl" x="27" y="175">08:00</text>
<line x1="28.4" y1="181.8" x2="30" y2="181.8" stroke="#555" stroke-width="0.5"/>
<text class="yl" x="27" y="184.4">06:00</text>
<line x1="28.4" y1="191.2" x2="30" y2="191.2" stroke="#555" stroke-width="0.5"/>
<text class="yl" x="27" y="193.8">04:00</text>
<line x1="28.4" y1="200.7" x2="30" y2="200.7" stroke="#555" stroke-width="0.5"/>
<text class="yl" x="27" y="203.2">02:00</text>
<line x1="28.4" y1="210.1" x2="30" y2="210.1" stroke="#555" stroke-width="0.5"/>
<text class="yl" x="27" y="212.7">00:00</text>
<line x1="28.4" y1="219.5" x2="30" y2="219.5" stroke="#555" stroke-width="0.5"/>
<text class="yl" x="27" y="222.1">22:00</text>
<line x1="28.4" y1="228.9" x2="30" y2="228.9" stroke="#555" stroke-width="0.5"/>
<text class="yl" x="27" y="231.5">20:00</text>
<line x1="28.4" y1="238.3" x2="30" y2="238.3" stroke="#555" stroke-width="0.5"/>
<text class="yl" x="27" y="240.9">18:00</text>
<line x1="28.4" y1="247.7" x2="30" y2="247.7" stroke="#555" stroke-width="0.5"/>
<text class="yl" x="27" y="250.3">16:00</text>
<line x1="28.4" y1="257.2" x2="30" y2="257.2" stroke="#555" stroke-width="0.5"/>
<text class="yl" x="27" y="259.8">14:00</text>
<line x1="28.4" y1="266.6" x2="30" y2="266.6" stroke="#555" stroke-width="0.5"/>
<text class="yl" x="27" y="269.2">12:00</text>
<line x1="28.4" y1="276" x2="30" y2="276" stroke="#555" stroke-width="0.5"/>
<text class="yl" x="27" y="278.6">10:00</text>
<line x1="28.4" y1="285.4" x2="30" y2="285.4" stroke="#555" stroke-width="0.5"/>
<text class="yl" x="27" y="288">08:00</text>
<text class="ml" x="49" y="293.9">Jan</text>
<text class="ml" x="86.9" y="293.9">Feb</text>
<text class="ml" x="124.9" y="293.9">Mar</text>
<text class="ml" x="162.8" y="293.9">Apr</text>
<text class="ml" x="200.7" y="293.9">May</text>
<text class="ml" x="238.7" y="293.9">Jun</text>
<text class="ml" x="276.6" y="293.9">Jul</text>
<text class="ml" x="314.6" y="293.9">Aug</text>
<text class="ml" x="352.5" y="293.9">Sep</text>
<text class="ml" x="390.4" y="293.9">Oct</text>
<text class="ml" x="428.4" y="293.9">Nov</text>
<text class="ml" x="466.3" y="293.9">Dec</text>
<rect x="487.8" y="172" width="12.5" height="16.5" fill="#f98a0e"/>
<rect x="487.8" y="188.3" width="12.5" height="16.5" fill="#fca311"/>
<rect x="487.8" y="204.7" width="12.5" height="16.5" fill="#fde5a2"/>
<rect x="487.8" y="221" width="12.5" height="16.5" fill="#ffffff"/>
<rect x="487.8" y="237.3" width="12.5" height="16.5" fill="#c0edcb"/>
<rect x="487.8" y="253.6" width="12.5" height="16.5" fill="#0ba05e"/>
<rect x="487.8" y="270" width="12.5" height="16.5" fill="#0b5aa5"/>
<rect x="487.8" y="172" width="12.5" height="114.3" fill="none" stroke="#aaa" stroke-width="0.4"/>
<text class="lg" x="504.3" y="181.5">Very hot</text>
<text class="lg" x="504.3" y="190.5">34<tspan dx="-0.7" font-size="6">℃</tspan></text>
<text class="lg" x="504.3" y="199.4">Hot</text>
<text class="lg" x="504.3" y="207.3">30<tspan dx="-0.7" font-size="6">℃</tspan></text>
<text class="lg" x="504.3" y="215.6">Slightly hot</text>
<text class="lg" x="504.3" y="223.6">26<tspan dx="-0.7" font-size="6">℃</tspan></text>
<text class="lg" x="504.3" y="232.5">Comfortable</text>
<text class="lg" x="504.3" y="239.8">19<tspan dx="-0.7" font-size="6">℃</tspan></text>
<text class="lg" x="504.3" y="248.3">Slightly cold</text>
<text class="lg" x="504.3" y="256.9">12<tspan dx="-0.7" font-size="6">℃</tspan></text>
<text class="lg" x="504.3" y="264.8">Cold</text>
<text class="lg" x="504.3" y="272.8">8<tspan dx="-0.7" font-size="6">℃</tspan></text>
<text class="lg" x="504.3" y="281.1">Very cold</text>
<clipPath id="cpc"><rect x="29.8" y="328.6" width="453.2" height="113.9"/></clipPath>
<g clip-path="url(#cpc)">
<rect x="29.8" y="328.6" width="453.2" height="113.9" fill="#fff"/>
<path d="M29.8,328.6L172.6,328.6C172.9,330.2 174.1,335.2 174.6,338.5C175.1,341.8 175.1,344.7 175.4,348.4C175.6,352 176,356.6 176,360.2C175.9,363.8 175.6,366.8 175,370.1C174.3,373.4 173.3,377 172,380C170.7,382.9 168.7,385.9 167.1,387.9C165.5,389.8 163.8,391.6 162.2,391.8C160.5,392.1 159.1,389.8 157.2,389.4C155.4,388.9 154,388.1 151.3,388.9C148.7,389.6 144.8,392.3 141.5,393.8C138.2,395.3 134.9,396.9 131.6,397.8C128.3,398.6 124.7,398.2 121.8,398.7C118.8,399.2 116.5,399.6 113.9,400.7C111.2,401.9 108.1,403.5 106,405.7C103.9,407.8 101.9,412.2 101.1,413.6C101.9,414.9 103.9,419.5 106,421.5C108.1,423.4 111.2,424.5 113.9,425.4C116.5,426.3 118.8,426.7 121.8,427C124.7,427.3 128.7,426.8 131.6,427.4C134.6,427.9 137.2,429.2 139.5,430.3C141.8,431.5 143.1,433.6 145.4,434.3C147.7,435 150.7,434.8 153.3,434.6C155.9,434.4 158.9,432.8 161.2,432.9C163.5,433 165.6,434.2 167.1,435.3C168.6,436.3 169.6,438 170.1,439.2C170.6,440.4 170.1,442 170.1,442.5L29.8,442.5Z" fill="#c0edcb" stroke="#a5cbae" stroke-width="0.35"/>
<ellipse cx="86.7" cy="413.2" rx="3" ry="6.4" fill="#fff" stroke="#a5cbae" stroke-width="0.35"/>
<path d="M378,328.6C377.7,329.9 376.6,333.2 376.1,336.5C375.6,339.8 375.1,344.4 375.1,348.4C375.1,352.3 375.6,356.6 376.1,360.2C376.6,363.8 377,366.8 378,370.1C379,373.4 380.5,377.2 382,380C383.4,382.8 386.1,385.7 386.9,386.9C387.6,386.4 389.2,384.4 390.8,383.9C392.5,383.4 394.9,383.1 396.8,383.9C398.6,384.7 399.9,386.7 401.7,388.9C403.5,391 405.6,394.6 407.6,396.8C409.6,398.9 411.2,400.5 413.5,401.7C415.8,402.9 418.8,403.5 421.4,404.2C424,404.8 427,404.9 429.3,405.7C431.6,406.4 433.7,407.1 435.2,408.6C436.7,410.1 437.8,412.6 438.2,414.5C438.5,416.5 438,418.8 437.2,420.5C436.3,422.1 434.9,423.4 433.2,424.4C431.6,425.4 429.6,425.7 427.3,426.4C425,427.1 421.7,427.4 419.4,428.4C417.1,429.4 415.2,430.7 413.5,432.3C411.9,434 410.4,436.6 409.6,438.3C408.7,439.9 408.7,441.8 408.6,442.5L483,442.5L483,328.6Z" fill="#c0edcb" stroke="#a5cbae" stroke-width="0.35"/>
<path d="M383,442.5C383.3,441.9 384.1,439.7 384.9,438.7C385.7,437.8 386.8,436.9 387.9,436.9C389,436.9 390.2,437.8 391.3,438.7C392.5,439.7 394.2,441.9 394.8,442.5Z" fill="#c0edcb" stroke="#a5cbae" stroke-width="0.35"/>
<path d="M196,328.6C196.5,329.3 197.3,331.9 199,333C200.7,334.1 204,333.7 206,335C208,336.3 209.7,338.5 211,341C212.3,343.5 213.3,346.8 213.6,350C213.9,353.2 213.6,357 213,360C212.4,363 211.3,365.7 210,368C208.7,370.3 206.8,372.5 205,374C203.2,375.5 200.8,376.8 199,377C197.2,377.2 195.3,375.2 194,375.5C192.7,375.8 192.2,376.6 191,379C189.8,381.4 188.2,386.2 187,390C185.8,393.8 184.4,398.3 183.6,402C182.8,405.7 182.1,408.7 182,412C181.9,415.3 182.2,418.8 183,422C183.8,425.2 185.3,428.3 187,431C188.7,433.7 191,436.4 193,438C195,439.6 197,439.8 199,440.5C201,441.2 204,442.2 205,442.5L341,442.5C341.7,441.6 343.5,438.4 345,437C346.5,435.6 348.2,435 350,434.4C351.8,433.8 353.8,434.3 356,433.6C358.2,432.9 361,431.6 363,430C365,428.4 366.8,426.3 368,424C369.2,421.7 370.1,418.7 370.4,416C370.7,413.3 370.5,410.7 369.6,408C368.7,405.3 366.8,402.2 365,400C363.2,397.8 361,395.8 359,395C357,394.2 355.2,395.2 353,395C350.8,394.8 348.3,395.2 346,394C343.7,392.8 340.8,390.7 339,388C337.2,385.3 335.9,382 335,378C334.1,374 333.9,369 333.6,364C333.3,359 333.1,353.9 333,348C332.9,342.1 333,331.8 333,328.6Z" fill="#fde5a2" stroke="#d9c48b" stroke-width="0.35"/>
<path d="M263.6,328.6C263.8,329.3 264.1,331.7 265,333C265.9,334.3 267.7,335.8 269,336.4C270.3,337 271.8,336.6 273,336.4C274.2,336.2 275,335 276,335C277,335 277.8,336.2 279,336.4C280.2,336.6 281.8,337 283,336.4C284.2,335.8 285.3,334.3 286,333C286.7,331.7 286.8,329.3 287,328.6Z" fill="#fca311" stroke="#d88c0e" stroke-width="0.35"/>
<path d="M213.6,410C214.3,408.7 216.3,404.7 218,402C219.7,399.3 221.8,396 224,394C226.2,392 228.7,390.5 231,390C233.3,389.5 235.8,391 238,391C240.2,391 242,391 244,390C246,389 248,387 250,385C252,383 254.3,380.5 256,378C257.7,375.5 258.8,372.8 260,370C261.2,367.2 262,363.7 263,361C264,358.3 264.8,355.5 266,354C267.2,352.5 268.5,352 270,352C271.5,352 273.3,354 275,354C276.7,354 278.5,352.2 280,352C281.5,351.8 282.8,351.8 284,353C285.2,354.2 286,356.5 287,359C288,361.5 288.8,365 290,368C291.2,371 292.3,374.3 294,377C295.7,379.7 297.7,382 300,384C302.3,386 305.3,388 308,389C310.7,390 313.7,390 316,390C318.3,390 320.2,388.7 322,389C323.8,389.3 325.5,390.5 327,392C328.5,393.5 329.8,395.7 331,398C332.2,400.3 333.2,403.3 334,406C334.8,408.7 335.8,411.2 335.6,414C335.4,416.8 334.3,420.5 333,423C331.7,425.5 329.8,427.8 328,429C326.2,430.2 324,429.8 322,430C320,430.2 318,429.5 316,430C314,430.5 311.8,431.7 310,433C308.2,434.3 306.3,436.4 305,438C303.7,439.6 302.5,441.8 302,442.5L252,442.5C251.5,441.9 250.3,440.6 249,439C247.7,437.4 245.8,434.5 244,433C242.2,431.5 240,430.5 238,430C236,429.5 234,430.2 232,430C230,429.8 227.8,429.8 226,429C224.2,428.2 222.5,426.7 221,425C219.5,423.3 218.2,421.5 217,419C215.8,416.5 214.2,411.5 213.6,410Z" fill="#fca311" stroke="#d88c0e" stroke-width="0.35"/>
<ellipse cx="200" cy="413.6" rx="2.5" ry="5.8" fill="#fca311" stroke="#d88c0e" stroke-width="0.35"/>
<ellipse cx="276" cy="442.5" rx="3" ry="3" fill="#fff" stroke="#a5cbae" stroke-width="0.35"/>
<ellipse cx="276" cy="411.6" rx="6.7" ry="8.5" fill="#f98a0e" stroke="#d6760c" stroke-width="0.35"/>
<line x1="48.7" y1="329.6" x2="48.7" y2="442.5" stroke="#000" stroke-width="0.8" stroke-dasharray="1.6 3.1" opacity="0.19"/>
<line x1="86.5" y1="329.6" x2="86.5" y2="442.5" stroke="#000" stroke-width="0.8" stroke-dasharray="1.6 3.1" opacity="0.19"/>
<line x1="124.2" y1="329.6" x2="124.2" y2="442.5" stroke="#000" stroke-width="0.8" stroke-dasharray="1.6 3.1" opacity="0.19"/>
<line x1="162" y1="329.6" x2="162" y2="442.5" stroke="#000" stroke-width="0.8" stroke-dasharray="1.6 3.1" opacity="0.19"/>
<line x1="199.8" y1="329.6" x2="199.8" y2="442.5" stroke="#000" stroke-width="0.8" stroke-dasharray="1.6 3.1" opacity="0.19"/>
<line x1="237.5" y1="329.6" x2="237.5" y2="442.5" stroke="#000" stroke-width="0.8" stroke-dasharray="1.6 3.1" opacity="0.19"/>
<line x1="275.3" y1="329.6" x2="275.3" y2="442.5" stroke="#000" stroke-width="0.8" stroke-dasharray="1.6 3.1" opacity="0.19"/>
<line x1="313.1" y1="329.6" x2="313.1" y2="442.5" stroke="#000" stroke-width="0.8" stroke-dasharray="1.6 3.1" opacity="0.19"/>
<line x1="350.8" y1="329.6" x2="350.8" y2="442.5" stroke="#000" stroke-width="0.8" stroke-dasharray="1.6 3.1" opacity="0.19"/>
<line x1="388.6" y1="329.6" x2="388.6" y2="442.5" stroke="#000" stroke-width="0.8" stroke-dasharray="1.6 3.1" opacity="0.19"/>
<line x1="426.3" y1="329.6" x2="426.3" y2="442.5" stroke="#000" stroke-width="0.8" stroke-dasharray="1.6 3.1" opacity="0.19"/>
<line x1="464.1" y1="329.6" x2="464.1" y2="442.5" stroke="#000" stroke-width="0.8" stroke-dasharray="1.6 3.1" opacity="0.19"/>
<path d="M29.8,328.6L77.4,328.6C77.2,330.6 76.7,336.5 76,340.5C75.4,344.4 74.1,348.4 73.5,352.3C72.9,356.3 72.8,360.2 72.5,364.2C72.1,368.1 71.8,372.7 71.5,376C71.2,379.3 71.2,381 70.5,383.9C69.9,386.9 68.9,391 67.6,393.8C66.2,396.6 64.1,398.9 62.6,400.7C61.1,402.5 59.3,404 58.7,404.7C57.7,404.3 54.7,403 52.8,402.7C50.8,402.4 48.5,402.4 46.9,402.7C45.2,403 44.6,404 42.9,404.7C41.3,405.3 39.2,406.4 37,406.6C34.8,406.9 31,406.1 29.8,406Z" fill="#0ba05e" stroke="#098950" stroke-width="0.35"/>
<path d="M29.8,426.4C30.7,426.1 33.5,424.8 35,424.4C36.6,424.1 37.3,424.1 39,424.4C40.6,424.8 42.9,425.7 44.9,426.4C46.9,427.1 49,428.4 50.8,428.4C52.6,428.4 54.2,426.4 55.7,426.4C57.2,426.4 58.4,427.2 59.7,428.4C61,429.5 62.6,431.5 63.6,433.3C64.6,435.1 65.2,437.7 65.6,439.2C66,440.8 66.1,442 66.2,442.5L29.8,442.5Z" fill="#0ba05e" stroke="#098950" stroke-width="0.35"/>
<path d="M83.3,442.5C83.6,442.2 84.2,441.1 84.8,440.7C85.4,440.3 86,440.2 86.7,440.2C87.3,440.2 88,440.3 88.5,440.7C89.1,441.1 89.8,442.2 90,442.5Z" fill="#0ba05e" stroke="#098950" stroke-width="0.35"/>
<path d="M29.8,328.6L59.1,328.6L59.1,368.9L50.8,369.7C50.3,370.3 48.8,371.6 47.8,373.1C46.9,374.5 46.2,376.3 44.9,378.5C43.6,380.6 41.6,383.8 40,385.9C38.3,388 36.7,389.6 35,391C33.3,392.5 30.7,394.2 29.8,394.8Z" fill="#0b5aa5" stroke="#094d8d" stroke-width="0.35"/>
<path d="M29.8,435.3C30.5,435.8 33,437.1 34,438.3C35.1,439.5 35.7,441.8 36,442.5L29.8,442.5Z" fill="#0b5aa5" stroke="#094d8d" stroke-width="0.35"/>
<path d="M42.9,442.5C43.2,441.8 43.9,439.3 44.9,438.3C45.9,437.2 47.5,436.3 48.8,436.3C50.1,436.3 51.8,437.2 52.8,438.3C53.8,439.3 54.4,441.8 54.7,442.5Z" fill="#0b5aa5" stroke="#094d8d" stroke-width="0.35"/>
<path d="M440.1,328.6C440.3,331.2 440.8,339.1 441.1,344.4C441.4,349.7 441.8,355.3 442.1,360.2C442.4,365.2 442.6,369.4 443.1,374C443.6,378.7 444.2,383.6 445.1,387.9C445.9,392.2 446.9,396.1 448,399.7C449.2,403.3 451,407.1 452,409.6C452.9,412.1 453.9,412.6 453.9,414.5C453.9,416.5 452.8,419 452,421.5C451.1,423.9 449.7,426.7 449,429.4C448.3,432 447.9,435.1 447.6,437.3C447.3,439.5 447.1,441.6 447,442.5L483,442.5L483,328.6Z" fill="#0ba05e" stroke="#098950" stroke-width="0.35"/>
<path d="M450,328.6C450,331.2 450,338.5 450,344.4C450,350.3 449.9,358.6 450,364.2C450.1,369.8 450.1,374 450.6,378C451,381.9 451.7,385.2 452.5,387.9C453.4,390.5 454.7,392.3 455.9,393.8C457.1,395.3 458.5,395.8 459.8,396.8C461.2,397.8 463.1,399.2 463.8,399.7C464.3,399.4 465.6,398.7 466.7,397.8C467.9,396.8 469.2,395 470.7,393.8C472.2,392.6 473.6,391.5 475.6,390.8C477.7,390.2 481.8,390 483,389.8L483,328.6Z" fill="#0b5aa5" stroke="#094d8d" stroke-width="0.35"/>
<path d="M455.9,415.5C456.4,415 457.4,413.2 458.9,412.6C460.3,411.9 462.8,411.9 464.8,411.6C466.7,411.3 468.7,411.3 470.7,410.6C472.7,409.9 474.5,408.3 476.6,407.6C478.6,407 481.9,406.8 483,406.6L483,425.4C481.9,424.9 478.5,423.1 476.6,422.4C474.7,421.8 473.3,421.3 471.7,421.5C470,421.6 468.4,423.1 466.7,423.4C465.1,423.8 463.2,424.1 461.8,423.4C460.4,422.8 459.4,420.8 458.5,419.5C457.5,418.2 456.3,416.2 455.9,415.5Z" fill="#c0edcb" stroke="#a5cbae" stroke-width="0.35"/>
<path d="M453.9,442.5C454.3,441.8 454.9,439.5 455.9,438.3C456.9,437.1 458.4,435.6 459.8,435.3C461.3,435 463.1,435.8 464.8,436.3C466.4,436.8 468.1,438.3 469.7,438.3C471.3,438.3 473.1,437.1 474.6,436.3C476.1,435.5 477.2,434 478.6,433.3C480,432.7 482.3,432.5 483,432.3L483,442.5Z" fill="#0b5aa5" stroke="#094d8d" stroke-width="0.35"/>
<text class="cl" x="50" y="371.3">8</text>
<text class="cl" x="49.6" y="405.8">12</text>
<text class="cl" x="54" y="429.8">12</text>
<text class="cl" x="131" y="401.8">19</text>
<text class="cl" x="175.6" y="352.8" transform="rotate(90 175.6 351)">19</text>
<text class="cl" x="151" y="436.4">19</text>
<text class="cl" x="190.5" y="382.8" transform="rotate(-75 190.5 381)">26</text>
<text class="cl" x="200" y="437.8">26</text>
<text class="cl" x="251.6" y="387.4" transform="rotate(-45 251.6 385.6)">30</text>
<text class="cl" x="239" y="432.4">30</text>
<text class="cl" x="278.6" y="406.8" transform="rotate(20 278.6 405)">34</text>
<text class="cl" x="314" y="391.8">30</text>
<text class="cl" x="351" y="398.2">26</text>
<text class="cl" x="351.4" y="433.8">26</text>
<text class="cl" x="397" y="389.8">19</text>
<text class="cl" x="425" y="430.8">19</text>
<text class="cl" x="442.1" y="375.4" transform="rotate(90 442.1 373.6)">12</text>
<text class="cl" x="458.9" y="397.6">8</text>
<text class="cl" x="473.6" y="423.3" transform="rotate(30 473.6 421.5)">12</text>
<line x1="48.7" y1="329.6" x2="48.7" y2="442.5" stroke="#000" stroke-width="0.8" stroke-dasharray="1.6 3.1" opacity="0.07"/>
<line x1="86.5" y1="329.6" x2="86.5" y2="442.5" stroke="#000" stroke-width="0.8" stroke-dasharray="1.6 3.1" opacity="0.07"/>
<line x1="124.2" y1="329.6" x2="124.2" y2="442.5" stroke="#000" stroke-width="0.8" stroke-dasharray="1.6 3.1" opacity="0.07"/>
<line x1="162" y1="329.6" x2="162" y2="442.5" stroke="#000" stroke-width="0.8" stroke-dasharray="1.6 3.1" opacity="0.07"/>
<line x1="199.8" y1="329.6" x2="199.8" y2="442.5" stroke="#000" stroke-width="0.8" stroke-dasharray="1.6 3.1" opacity="0.07"/>
<line x1="237.5" y1="329.6" x2="237.5" y2="442.5" stroke="#000" stroke-width="0.8" stroke-dasharray="1.6 3.1" opacity="0.07"/>
<line x1="275.3" y1="329.6" x2="275.3" y2="442.5" stroke="#000" stroke-width="0.8" stroke-dasharray="1.6 3.1" opacity="0.07"/>
<line x1="313.1" y1="329.6" x2="313.1" y2="442.5" stroke="#000" stroke-width="0.8" stroke-dasharray="1.6 3.1" opacity="0.07"/>
<line x1="350.8" y1="329.6" x2="350.8" y2="442.5" stroke="#000" stroke-width="0.8" stroke-dasharray="1.6 3.1" opacity="0.07"/>
<line x1="388.6" y1="329.6" x2="388.6" y2="442.5" stroke="#000" stroke-width="0.8" stroke-dasharray="1.6 3.1" opacity="0.07"/>
<line x1="426.3" y1="329.6" x2="426.3" y2="442.5" stroke="#000" stroke-width="0.8" stroke-dasharray="1.6 3.1" opacity="0.07"/>
<line x1="464.1" y1="329.6" x2="464.1" y2="442.5" stroke="#000" stroke-width="0.8" stroke-dasharray="1.6 3.1" opacity="0.07"/>
</g>
<rect x="30.1" y="328.9" width="452.7" height="113.4" fill="none" stroke="#9a9a9a" stroke-width="0.5"/>
<line x1="28.2" y1="329" x2="29.8" y2="329" stroke="#555" stroke-width="0.5"/>
<text class="yl" x="26.8" y="331.6">08:00</text>
<line x1="28.2" y1="338.4" x2="29.8" y2="338.4" stroke="#555" stroke-width="0.5"/>
<text class="yl" x="26.8" y="341">06:00</text>
<line x1="28.2" y1="347.8" x2="29.8" y2="347.8" stroke="#555" stroke-width="0.5"/>
<text class="yl" x="26.8" y="350.4">04:00</text>
<line x1="28.2" y1="357.1" x2="29.8" y2="357.1" stroke="#555" stroke-width="0.5"/>
<text class="yl" x="26.8" y="359.8">02:00</text>
<line x1="28.2" y1="366.5" x2="29.8" y2="366.5" stroke="#555" stroke-width="0.5"/>
<text class="yl" x="26.8" y="369.1">00:00</text>
<line x1="28.2" y1="375.9" x2="29.8" y2="375.9" stroke="#555" stroke-width="0.5"/>
<text class="yl" x="26.8" y="378.5">22:00</text>
<line x1="28.2" y1="385.3" x2="29.8" y2="385.3" stroke="#555" stroke-width="0.5"/>
<text class="yl" x="26.8" y="387.9">20:00</text>
<line x1="28.2" y1="394.7" x2="29.8" y2="394.7" stroke="#555" stroke-width="0.5"/>
<text class="yl" x="26.8" y="397.3">18:00</text>
<line x1="28.2" y1="404.1" x2="29.8" y2="404.1" stroke="#555" stroke-width="0.5"/>
<text class="yl" x="26.8" y="406.7">16:00</text>
<line x1="28.2" y1="413.4" x2="29.8" y2="413.4" stroke="#555" stroke-width="0.5"/>
<text class="yl" x="26.8" y="416.1">14:00</text>
<line x1="28.2" y1="422.8" x2="29.8" y2="422.8" stroke="#555" stroke-width="0.5"/>
<text class="yl" x="26.8" y="425.4">12:00</text>
<line x1="28.2" y1="432.2" x2="29.8" y2="432.2" stroke="#555" stroke-width="0.5"/>
<text class="yl" x="26.8" y="434.8">10:00</text>
<line x1="28.2" y1="441.6" x2="29.8" y2="441.6" stroke="#555" stroke-width="0.5"/>
<text class="yl" x="26.8" y="444.2">08:00</text>
<text class="ml" x="48.7" y="450.1">Jan</text>
<text class="ml" x="86.5" y="450.1">Feb</text>
<text class="ml" x="124.2" y="450.1">Mar</text>
<text class="ml" x="162" y="450.1">Apr</text>
<text class="ml" x="199.8" y="450.1">May</text>
<text class="ml" x="237.5" y="450.1">Jun</text>
<text class="ml" x="275.3" y="450.1">Jul</text>
<text class="ml" x="313.1" y="450.1">Aug</text>
<text class="ml" x="350.8" y="450.1">Sep</text>
<text class="ml" x="388.6" y="450.1">Oct</text>
<text class="ml" x="426.3" y="450.1">Nov</text>
<text class="ml" x="464.1" y="450.1">Dec</text>
<rect x="486" y="328.6" width="12.5" height="16.5" fill="#f98a0e"/>
<rect x="486" y="344.9" width="12.5" height="16.5" fill="#fca311"/>
<rect x="486" y="361.1" width="12.5" height="16.5" fill="#fde5a2"/>
<rect x="486" y="377.4" width="12.5" height="16.5" fill="#ffffff"/>
<rect x="486" y="393.7" width="12.5" height="16.5" fill="#c0edcb"/>
<rect x="486" y="410" width="12.5" height="16.5" fill="#0ba05e"/>
<rect x="486" y="426.2" width="12.5" height="16.5" fill="#0b5aa5"/>
<rect x="486" y="328.6" width="12.5" height="113.9" fill="none" stroke="#aaa" stroke-width="0.4"/>
<text class="lg" x="502.3" y="338.1">Very hot</text>
<text class="lg" x="502.3" y="347">34<tspan dx="-0.7" font-size="6">℃</tspan></text>
<text class="lg" x="502.3" y="355.9">Hot</text>
<text class="lg" x="502.3" y="363.7">30<tspan dx="-0.7" font-size="6">℃</tspan></text>
<text class="lg" x="502.3" y="372.1">Slightly hot</text>
<text class="lg" x="502.3" y="380">26<tspan dx="-0.7" font-size="6">℃</tspan></text>
<text class="lg" x="502.3" y="388.9">Comfortable</text>
<text class="lg" x="502.3" y="396.2">19<tspan dx="-0.7" font-size="6">℃</tspan></text>
<text class="lg" x="502.3" y="404.6">Slightly cold</text>
<text class="lg" x="502.3" y="413.2">12<tspan dx="-0.7" font-size="6">℃</tspan></text>
<text class="lg" x="502.3" y="421">Cold</text>
<text class="lg" x="502.3" y="429">8<tspan dx="-0.7" font-size="6">℃</tspan></text>
<text class="lg" x="502.3" y="437.3">Very cold</text>
<clipPath id="cpd"><rect x="29" y="483.6" width="453.4" height="113.7"/></clipPath>
<g clip-path="url(#cpd)">
<rect x="29" y="483.6" width="453.4" height="113.7" fill="#fff"/>
<path d="M29,483.6L171.9,483.6C172.2,485.2 173.4,490.2 173.9,493.5C174.3,496.7 174.4,499.7 174.6,503.3C174.9,506.9 175.3,511.5 175.2,515.2C175.2,518.8 174.9,521.7 174.2,525C173.6,528.3 172.6,531.9 171.3,534.9C170,537.8 168,540.8 166.4,542.8C164.7,544.7 163.1,546.5 161.4,546.7C159.8,547 158.3,544.7 156.5,544.2C154.7,543.8 153.2,543 150.6,543.8C148,544.5 144,547.2 140.7,548.7C137.4,550.2 134.1,551.8 130.9,552.6C127.6,553.5 124,553.1 121,553.6C118,554.1 115.7,554.4 113.1,555.6C110.5,556.7 107.4,558.4 105.2,560.5C103.1,562.7 101.1,567.1 100.3,568.4C101.1,569.7 103.1,574.3 105.2,576.3C107.4,578.3 110.5,579.3 113.1,580.2C115.7,581.2 118,581.5 121,581.8C124,582.1 127.9,581.7 130.9,582.2C133.8,582.8 136.4,584 138.8,585.2C141.1,586.3 142.4,588.4 144.7,589.1C147,589.8 149.9,589.6 152.6,589.4C155.2,589.2 158.1,587.6 160.4,587.7C162.7,587.8 164.9,589 166.4,590.1C167.8,591.2 168.8,592.8 169.3,594C169.8,595.2 169.3,596.8 169.3,597.3L29,597.3Z" fill="#c0edcb" stroke="#a5cbae" stroke-width="0.35"/>
<ellipse cx="85.9" cy="568" rx="3" ry="6.4" fill="#fff" stroke="#a5cbae" stroke-width="0.35"/>
<path d="M377.4,483.6C377.1,484.9 375.9,488.2 375.4,491.5C374.9,494.8 374.4,499.4 374.4,503.3C374.4,507.3 374.9,511.5 375.4,515.2C375.9,518.8 376.4,521.7 377.4,525C378.4,528.3 379.8,532.1 381.3,534.9C382.8,537.7 385.4,540.6 386.3,541.8C386.9,541.3 388.6,539.3 390.2,538.8C391.8,538.3 394.3,538 396.1,538.8C397.9,539.6 399.2,541.6 401,543.8C402.9,545.9 405,549.5 407,551.6C408.9,553.8 410.6,555.3 412.9,556.6C415.2,557.8 418.1,558.4 420.8,559C423.4,559.7 426.4,559.8 428.7,560.5C431,561.3 433.1,562 434.6,563.5C436.1,565 437.2,567.4 437.5,569.4C437.9,571.4 437.4,573.7 436.5,575.3C435.7,577 434.2,578.3 432.6,579.3C431,580.2 429,580.6 426.7,581.2C424.4,581.9 421.1,582.2 418.8,583.2C416.5,584.2 414.5,585.5 412.9,587.1C411.2,588.8 409.8,591.4 408.9,593.1C408.1,594.8 408.1,596.6 408,597.3L482.4,597.3L482.4,483.6Z" fill="#c0edcb" stroke="#a5cbae" stroke-width="0.35"/>
<path d="M382.3,597.3C382.6,596.7 383.5,594.5 384.3,593.6C385.1,592.6 386.2,591.7 387.2,591.7C388.3,591.7 389.5,592.6 390.7,593.6C391.8,594.5 393.6,596.7 394.1,597.3Z" fill="#c0edcb" stroke="#a5cbae" stroke-width="0.35"/>
<path d="M195,483.6C195.5,484.2 196.3,486.3 198,487.4C199.7,488.5 203.1,488.6 205,490C206.9,491.4 208.5,493.5 209.6,496C210.7,498.5 211.4,501.8 211.6,505C211.8,508.2 211.6,512 211,515C210.4,518 209.3,520.7 208,523C206.7,525.3 204.8,527.5 203,529C201.2,530.5 198.6,531.6 197,532C195.4,532.4 194.8,530.6 193.6,531.4C192.4,532.2 191.3,534.4 190,537C188.7,539.6 187.3,543.7 186,547C184.7,550.3 183.2,553.7 182.4,557C181.6,560.3 181.1,563.7 181,567C180.9,570.3 181.2,573.8 182,577C182.8,580.2 184.3,583.5 186,586C187.7,588.5 189.8,590.6 192,592C194.2,593.4 197,593.7 199,594.6C201,595.5 203.2,596.8 204,597.3L341,597.3C341.6,596.4 342.9,593.4 344.4,592C345.9,590.6 348.1,589.7 350,589C351.9,588.3 353.9,588.7 356,588C358.1,587.3 360.5,586.3 362.4,584.6C364.3,582.9 366.4,580.4 367.6,578C368.8,575.6 369.5,572.7 369.6,570C369.7,567.3 369.3,564.7 368.4,562C367.5,559.3 365.7,556.2 364,554C362.3,551.8 360,549.9 358,549C356,548.1 354,548.9 352,548.6C350,548.3 348,548.1 346,547C344,545.9 341.7,544.3 340,542C338.3,539.7 336.7,536.8 335.6,533C334.5,529.2 334,524.7 333.6,519C333.2,513.3 333,504.9 333,499C333,493.1 333.5,486.2 333.6,483.6Z" fill="#fde5a2" stroke="#d9c48b" stroke-width="0.35"/>
<path d="M262,483.6C262.3,484.5 263,487.5 264,489C265,490.5 266.7,491.9 268,492.6C269.3,493.3 270.4,493.3 271.6,493C272.8,492.7 273.9,490.6 275,490.6C276.1,490.6 277.2,492.7 278.4,493C279.6,493.3 281.1,493.3 282.4,492.6C283.7,491.9 285.1,490.5 286,489C286.9,487.5 287.3,484.5 287.6,483.6Z" fill="#fca311" stroke="#d88c0e" stroke-width="0.35"/>
<path d="M212.4,566C213.2,564.7 215.2,560.7 217,558C218.8,555.3 220.7,552.2 223,550C225.3,547.8 228.5,545.7 231,545C233.5,544.3 235.8,546.2 238,546C240.2,545.8 241.8,545.2 244,544C246.2,542.8 248.8,541 251,539C253.2,537 255.3,534.7 257,532C258.7,529.3 259.8,526 261,523C262.2,520 263,516.4 264,514C265,511.6 265.7,509.8 267,508.6C268.3,507.4 270.2,507.3 272,507C273.8,506.7 276.2,506.8 278,507C279.8,507.2 281.7,507 283,508C284.3,509 285,510.7 286,513C287,515.3 287.8,519 289,522C290.2,525 291.3,528.3 293,531C294.7,533.7 296.7,536.2 299,538C301.3,539.8 304.3,541.2 307,542C309.7,542.8 312.7,542.8 315,543C317.3,543.2 319.2,542.3 321,543C322.8,543.7 324.5,545.3 326,547C327.5,548.7 328.7,550.7 330,553C331.3,555.3 333.1,558.3 334,561C334.9,563.7 335.7,566.2 335.6,569C335.5,571.8 334.7,575.4 333.6,578C332.5,580.6 330.6,583.4 329,584.6C327.4,585.9 325.8,585.4 324,585.5C322.2,585.6 320.2,585 318,585.4C315.8,585.8 313,586.9 311,588C309,589.1 307.3,590.5 306,592C304.7,593.5 303.5,596.4 303,597.3L250,597.3C249.7,596.8 249,595.5 248,594C247,592.5 245.5,589.5 244,588C242.5,586.5 241,585.5 239,585C237,584.5 234.2,585.2 232,585C229.8,584.8 227.8,584.8 226,584C224.2,583.2 222.5,581.5 221,580C219.5,578.5 218.4,577.3 217,575C215.6,572.7 213.2,567.5 212.4,566Z" fill="#fca311" stroke="#d88c0e" stroke-width="0.35"/>
<ellipse cx="199.4" cy="570" rx="3.2" ry="6" fill="#fca311" stroke="#d88c0e" stroke-width="0.35"/>
<ellipse cx="350" cy="569.4" rx="2.4" ry="5.6" fill="#fca311" stroke="#d88c0e" stroke-width="0.35"/>
<ellipse cx="274.4" cy="597.3" rx="3" ry="3" fill="#fff" stroke="#a5cbae" stroke-width="0.35"/>
<ellipse cx="274.4" cy="568.6" rx="7.5" ry="8.2" fill="#f98a0e" stroke="#d6760c" stroke-width="0.35"/>
<line x1="47.9" y1="484.6" x2="47.9" y2="597.3" stroke="#000" stroke-width="0.8" stroke-dasharray="1.6 3.1" opacity="0.19"/>
<line x1="85.7" y1="484.6" x2="85.7" y2="597.3" stroke="#000" stroke-width="0.8" stroke-dasharray="1.6 3.1" opacity="0.19"/>
<line x1="123.5" y1="484.6" x2="123.5" y2="597.3" stroke="#000" stroke-width="0.8" stroke-dasharray="1.6 3.1" opacity="0.19"/>
<line x1="161.2" y1="484.6" x2="161.2" y2="597.3" stroke="#000" stroke-width="0.8" stroke-dasharray="1.6 3.1" opacity="0.19"/>
<line x1="199" y1="484.6" x2="199" y2="597.3" stroke="#000" stroke-width="0.8" stroke-dasharray="1.6 3.1" opacity="0.19"/>
<line x1="236.8" y1="484.6" x2="236.8" y2="597.3" stroke="#000" stroke-width="0.8" stroke-dasharray="1.6 3.1" opacity="0.19"/>
<line x1="274.6" y1="484.6" x2="274.6" y2="597.3" stroke="#000" stroke-width="0.8" stroke-dasharray="1.6 3.1" opacity="0.19"/>
<line x1="312.4" y1="484.6" x2="312.4" y2="597.3" stroke="#000" stroke-width="0.8" stroke-dasharray="1.6 3.1" opacity="0.19"/>
<line x1="350.2" y1="484.6" x2="350.2" y2="597.3" stroke="#000" stroke-width="0.8" stroke-dasharray="1.6 3.1" opacity="0.19"/>
<line x1="387.9" y1="484.6" x2="387.9" y2="597.3" stroke="#000" stroke-width="0.8" stroke-dasharray="1.6 3.1" opacity="0.19"/>
<line x1="425.7" y1="484.6" x2="425.7" y2="597.3" stroke="#000" stroke-width="0.8" stroke-dasharray="1.6 3.1" opacity="0.19"/>
<line x1="463.5" y1="484.6" x2="463.5" y2="597.3" stroke="#000" stroke-width="0.8" stroke-dasharray="1.6 3.1" opacity="0.19"/>
<path d="M29,483.6L74,483.6C73.7,485.8 73,492.8 72.4,497C71.8,501.2 70.8,504.7 70.4,509C70,513.3 70.2,518.3 70,523C69.8,527.7 69.7,533 69,537C68.3,541 67.3,544.2 66,547C64.7,549.8 62.5,552.2 61,554C59.5,555.8 57.7,557.3 57,558C56.2,557.8 54,557 52,557C50,557 47.3,557.5 45,558C42.7,558.5 40.7,559.5 38,560C35.3,560.5 30.5,560.8 29,561Z" fill="#0ba05e" stroke="#098950" stroke-width="0.35"/>
<path d="M29,581.2C29.9,580.9 32.7,579.6 34.2,579.3C35.8,578.9 36.5,578.9 38.2,579.3C39.8,579.6 42.1,580.6 44.1,581.2C46.1,581.9 48.2,583.2 50,583.2C51.8,583.2 53.5,581.2 54.9,581.2C56.4,581.2 57.6,582 58.9,583.2C60.2,584.3 61.8,586.3 62.8,588.1C63.8,589.9 64.4,592.5 64.8,594C65.2,595.6 65.3,596.8 65.4,597.3L29,597.3Z" fill="#0ba05e" stroke="#098950" stroke-width="0.35"/>
<path d="M82.5,597.3C82.8,597 83.5,595.9 84,595.5C84.6,595.1 85.3,595 85.9,595C86.5,595 87.2,595.1 87.8,595.5C88.3,595.9 89,597 89.2,597.3Z" fill="#0ba05e" stroke="#098950" stroke-width="0.35"/>
<path d="M29,483.6L43.6,483.6C43.2,485.5 41.9,491.1 41,495C40.1,498.9 39,503 38,507C37,511 36,515.3 35,519C34,522.7 33,526.5 32,529C31,531.5 29.5,533.2 29,534Z" fill="#0b5aa5" stroke="#094d8d" stroke-width="0.35"/>
<path d="M29,590.1C29.7,590.6 32.2,591.9 33.2,593.1C34.3,594.3 34.9,596.6 35.2,597.3L29,597.3Z" fill="#0b5aa5" stroke="#094d8d" stroke-width="0.35"/>
<path d="M42.1,597.3C42.4,596.6 43.1,594.1 44.1,593.1C45.1,592 46.7,591.1 48,591.1C49.3,591.1 51,592 52,593.1C53,594.1 53.6,596.6 53.9,597.3Z" fill="#0b5aa5" stroke="#094d8d" stroke-width="0.35"/>
<path d="M440.6,483.6C440.8,486.2 441.2,493.1 441.6,499C442,504.9 442.5,513 443,519C443.5,525 443.7,530 444.4,535C445.1,540 445.9,544.8 447,549C448.1,553.2 449.7,557 451,560C452.3,563 454.1,565 455,567C455.9,569 456.5,570.2 456.4,572C456.3,573.8 455.3,575.8 454.4,578C453.5,580.2 452.1,582.5 451,585C449.9,587.5 448.7,591 448,593C447.3,595 446.8,596.6 446.6,597.3L482.4,597.3L482.4,483.6Z" fill="#0ba05e" stroke="#098950" stroke-width="0.35"/>
<path d="M452.4,483.6C452.4,487.8 452.4,501.4 452.4,509C452.4,516.6 452.4,524 452.6,529C452.8,534 453,536.2 453.6,539C454.2,541.8 454.9,544.2 456,546C457.1,547.8 458.7,549.1 460,550C461.3,550.9 463,551.2 463.6,551.4C464.3,550.8 466.3,549.4 468,548C469.7,546.6 472.2,544.5 474,543C475.8,541.5 477.6,540 479,539C480.4,538 481.8,537.3 482.4,537L482.4,483.6Z" fill="#0b5aa5" stroke="#094d8d" stroke-width="0.35"/>
<path d="M455.6,572C456.2,571 457.4,567.3 459,566C460.6,564.7 462.8,564.3 465,564C467.2,563.7 469.8,564.2 472,564C474.2,563.8 476.3,562.9 478,562.6C479.7,562.3 481.7,562.1 482.4,562L482.4,581C481.8,580.7 480.4,579.7 479,579C477.6,578.3 475.7,577 474,577C472.3,577 470.7,578.5 469,579C467.3,579.5 465.7,580.3 464,580C462.3,579.7 460.4,578.3 459,577C457.6,575.7 456.2,572.8 455.6,572Z" fill="#c0edcb" stroke="#a5cbae" stroke-width="0.35"/>
<path d="M456,597.3C456.2,596.8 456.3,595 457,594C457.7,593 458.8,591.8 460,591C461.2,590.2 462.7,589.4 464,589.4C465.3,589.4 466.8,590.2 468,591C469.2,591.8 470.5,593.5 471,594C471.5,593.7 472.8,592.7 474,592C475.2,591.3 476.6,590.4 478,590C479.4,589.6 481.7,589.5 482.4,589.4L482.4,597.3Z" fill="#0b5aa5" stroke="#094d8d" stroke-width="0.35"/>
<text class="cl" x="37.6" y="507.8">8</text>
<text class="cl" x="48.6" y="559.8">12</text>
<text class="cl" x="53" y="583.8">12</text>
<text class="cl" x="130" y="556.4">19</text>
<text class="cl" x="175" y="507.8" transform="rotate(90 175 506)">19</text>
<text class="cl" x="149.6" y="592.8">19</text>
<text class="cl" x="190.6" y="539.8" transform="rotate(-75 190.6 538)">26</text>
<text class="cl" x="199" y="592.8">26</text>
<text class="cl" x="250.6" y="541.8" transform="rotate(-45 250.6 540)">30</text>
<text class="cl" x="238.4" y="587.4">30</text>
<text class="cl" x="279.6" y="565.8" transform="rotate(20 279.6 564)">34</text>
<text class="cl" x="313" y="545.8">30</text>
<text class="cl" x="350.4" y="551.8">26</text>
<text class="cl" x="350.4" y="590.8">26</text>
<text class="cl" x="395.6" y="542.8">19</text>
<text class="cl" x="425" y="586.8">19</text>
<text class="cl" x="443" y="530.8" transform="rotate(90 443 529)">12</text>
<text class="cl" x="459" y="549.2">8</text>
<text class="cl" x="473" y="579.8" transform="rotate(30 473 578)">12</text>
<line x1="47.9" y1="484.6" x2="47.9" y2="597.3" stroke="#000" stroke-width="0.8" stroke-dasharray="1.6 3.1" opacity="0.07"/>
<line x1="85.7" y1="484.6" x2="85.7" y2="597.3" stroke="#000" stroke-width="0.8" stroke-dasharray="1.6 3.1" opacity="0.07"/>
<line x1="123.5" y1="484.6" x2="123.5" y2="597.3" stroke="#000" stroke-width="0.8" stroke-dasharray="1.6 3.1" opacity="0.07"/>
<line x1="161.2" y1="484.6" x2="161.2" y2="597.3" stroke="#000" stroke-width="0.8" stroke-dasharray="1.6 3.1" opacity="0.07"/>
<line x1="199" y1="484.6" x2="199" y2="597.3" stroke="#000" stroke-width="0.8" stroke-dasharray="1.6 3.1" opacity="0.07"/>
<line x1="236.8" y1="484.6" x2="236.8" y2="597.3" stroke="#000" stroke-width="0.8" stroke-dasharray="1.6 3.1" opacity="0.07"/>
<line x1="274.6" y1="484.6" x2="274.6" y2="597.3" stroke="#000" stroke-width="0.8" stroke-dasharray="1.6 3.1" opacity="0.07"/>
<line x1="312.4" y1="484.6" x2="312.4" y2="597.3" stroke="#000" stroke-width="0.8" stroke-dasharray="1.6 3.1" opacity="0.07"/>
<line x1="350.2" y1="484.6" x2="350.2" y2="597.3" stroke="#000" stroke-width="0.8" stroke-dasharray="1.6 3.1" opacity="0.07"/>
<line x1="387.9" y1="484.6" x2="387.9" y2="597.3" stroke="#000" stroke-width="0.8" stroke-dasharray="1.6 3.1" opacity="0.07"/>
<line x1="425.7" y1="484.6" x2="425.7" y2="597.3" stroke="#000" stroke-width="0.8" stroke-dasharray="1.6 3.1" opacity="0.07"/>
<line x1="463.5" y1="484.6" x2="463.5" y2="597.3" stroke="#000" stroke-width="0.8" stroke-dasharray="1.6 3.1" opacity="0.07"/>
</g>
<rect x="29.2" y="483.9" width="452.9" height="113.2" fill="none" stroke="#9a9a9a" stroke-width="0.5"/>
<line x1="27.4" y1="484" x2="29" y2="484" stroke="#555" stroke-width="0.5"/>
<text class="yl up" x="26" y="486.6">08:00</text>
<line x1="27.4" y1="493.4" x2="29" y2="493.4" stroke="#555" stroke-width="0.5"/>
<text class="yl up" x="26" y="496">06:00</text>
<line x1="27.4" y1="502.7" x2="29" y2="502.7" stroke="#555" stroke-width="0.5"/>
<text class="yl up" x="26" y="505.3">04:00</text>
<line x1="27.4" y1="512.1" x2="29" y2="512.1" stroke="#555" stroke-width="0.5"/>
<text class="yl up" x="26" y="514.7">02:00</text>
<line x1="27.4" y1="521.5" x2="29" y2="521.5" stroke="#555" stroke-width="0.5"/>
<text class="yl up" x="26" y="524.1">00:00</text>
<line x1="27.4" y1="530.8" x2="29" y2="530.8" stroke="#555" stroke-width="0.5"/>
<text class="yl up" x="26" y="533.4">22:00</text>
<line x1="27.4" y1="540.2" x2="29" y2="540.2" stroke="#555" stroke-width="0.5"/>
<text class="yl up" x="26" y="542.8">20:00</text>
<line x1="27.4" y1="549.6" x2="29" y2="549.6" stroke="#555" stroke-width="0.5"/>
<text class="yl up" x="26" y="552.2">18:00</text>
<line x1="27.4" y1="558.9" x2="29" y2="558.9" stroke="#555" stroke-width="0.5"/>
<text class="yl up" x="26" y="561.5">16:00</text>
<line x1="27.4" y1="568.3" x2="29" y2="568.3" stroke="#555" stroke-width="0.5"/>
<text class="yl up" x="26" y="570.9">14:00</text>
<line x1="27.4" y1="577.7" x2="29" y2="577.7" stroke="#555" stroke-width="0.5"/>
<text class="yl up" x="26" y="580.3">12:00</text>
<line x1="27.4" y1="587" x2="29" y2="587" stroke="#555" stroke-width="0.5"/>
<text class="yl up" x="26" y="589.6">10:00</text>
<line x1="27.4" y1="596.4" x2="29" y2="596.4" stroke="#555" stroke-width="0.5"/>
<text class="yl up" x="26" y="599">08:00</text>
<text class="ml" x="47.9" y="604.9">Jan</text>
<text class="ml" x="85.7" y="604.9">Feb</text>
<text class="ml" x="123.5" y="604.9">Mar</text>
<text class="ml" x="161.2" y="604.9">Apr</text>
<text class="ml" x="199" y="604.9">May</text>
<text class="ml" x="236.8" y="604.9">Jun</text>
<text class="ml" x="274.6" y="604.9">Jul</text>
<text class="ml" x="312.4" y="604.9">Aug</text>
<text class="ml" x="350.2" y="604.9">Sep</text>
<text class="ml" x="387.9" y="604.9">Oct</text>
<text class="ml" x="425.7" y="604.9">Nov</text>
<text class="ml" x="463.5" y="604.9">Dec</text>
<rect x="485.6" y="483.6" width="12.4" height="16.4" fill="#f98a0e"/>
<rect x="485.6" y="499.8" width="12.4" height="16.4" fill="#fca311"/>
<rect x="485.6" y="516.1" width="12.4" height="16.4" fill="#fde5a2"/>
<rect x="485.6" y="532.3" width="12.4" height="16.4" fill="#ffffff"/>
<rect x="485.6" y="548.6" width="12.4" height="16.4" fill="#c0edcb"/>
<rect x="485.6" y="564.8" width="12.4" height="16.4" fill="#0ba05e"/>
<rect x="485.6" y="581.1" width="12.4" height="16.4" fill="#0b5aa5"/>
<rect x="485.6" y="483.6" width="12.4" height="113.7" fill="none" stroke="#aaa" stroke-width="0.4"/>
<text class="lg" x="501.8" y="493.1">Very hot</text>
<text class="lg" x="501.8" y="502">34<tspan dx="-0.7" font-size="6">℃</tspan></text>
<text class="lg" x="501.8" y="510.8">Hot</text>
<text class="lg" x="501.8" y="518.7">30<tspan dx="-0.7" font-size="6">℃</tspan></text>
<text class="lg" x="501.8" y="527">Slightly hot</text>
<text class="lg" x="501.8" y="534.9">26<tspan dx="-0.7" font-size="6">℃</tspan></text>
<text class="lg" x="501.8" y="543.8">Comfortable</text>
<text class="lg" x="501.8" y="551.1">19<tspan dx="-0.7" font-size="6">℃</tspan></text>
<text class="lg" x="501.8" y="559.5">Slightly cold</text>
<text class="lg" x="501.8" y="568">12<tspan dx="-0.7" font-size="6">℃</tspan></text>
<text class="lg" x="501.8" y="575.9">Cold</text>
<text class="lg" x="501.8" y="583.8">8<tspan dx="-0.7" font-size="6">℃</tspan></text>
<text class="lg" x="501.8" y="592.1">Very cold</text>
<clipPath id="cpe"><rect x="29.6" y="642.3" width="453.4" height="114.3"/></clipPath>
<g clip-path="url(#cpe)">
<rect x="29.6" y="642.3" width="453.4" height="114.3" fill="#fff"/>
<path d="M29.6,642.3L175.6,642.3C175.8,644.9 176.9,652.7 177,658C177.1,663.3 176.7,669 176.4,674C176.1,679 175.7,684 175,688C174.3,692 173.3,695.2 172,698C170.7,700.8 168.8,703.5 167,705C165.2,706.5 163,706.6 161,707C159,707.4 156.8,707.2 155,707.5C153.2,707.8 152.2,707.8 150,709C147.8,710.2 144.5,713.2 142,715C139.5,716.8 136.8,719.1 135,720C133.2,720.9 132.2,720.6 131,720.5C129.8,720.4 129.2,720 128,719.5C126.8,719 125.5,717.4 124,717.6C122.5,717.9 120.3,719.4 119,721C117.7,722.6 116.4,725.2 116.4,727.4C116.4,729.6 117.7,732.3 119,734C120.3,735.7 122.5,737.1 124,737.4C125.5,737.6 126.8,736.1 128,735.5C129.2,734.9 129.8,734.2 131,734C132.2,733.8 133.5,733.3 135,734C136.5,734.7 138.2,736.3 140,738C141.8,739.7 144,742.3 146,744C148,745.7 149.7,747.4 152,748C154.3,748.6 157.7,747.3 160,747.6C162.3,747.9 164.5,748.9 166,750C167.5,751.1 168.4,752.9 169,754C169.6,755.1 169.5,756.2 169.6,756.6L29.6,756.6Z" fill="#c0edcb" stroke="#a5cbae" stroke-width="0.35"/>
<path d="M370,642.3C370,644.9 369.8,652 370,658C370.2,664 370.5,672 371,678C371.5,684 372,689.7 373,694C374,698.3 375.3,701.2 377,704C378.7,706.8 381,709.2 383,711C385,712.8 386.7,714.3 389,715C391.3,715.7 394.8,714.5 397,715C399.2,715.5 400.3,716.5 402,718C403.7,719.5 405.5,722 407,724C408.5,726 410.3,729 411,730C410.5,731 409.3,734.2 408,736C406.7,737.8 404.8,739.7 403,741C401.2,742.3 399.2,743.3 397,744C394.8,744.7 392.2,744.4 390,745C387.8,745.6 385.7,746.4 384,747.6C382.3,748.8 380.9,750.5 380,752C379.1,753.5 378.7,755.8 378.4,756.6L483,756.6L483,642.3Z" fill="#c0edcb" stroke="#a5cbae" stroke-width="0.35"/>
<ellipse cx="425.6" cy="731" rx="3" ry="5.5" fill="#fff" stroke="#a5cbae" stroke-width="0.35"/>
<path d="M220.6,642.3C220.6,644.2 220.7,650 220.6,654C220.5,658 220.4,662 220,666C219.6,670 219.1,674.5 218.4,678C217.7,681.5 216.8,684.5 215.6,687C214.4,689.5 212.8,691.2 211,693C209.2,694.8 207,696.7 205,698C203,699.3 201,700.2 199,701C197,701.8 194.8,701.5 193,702.5C191.2,703.5 189.5,704.8 188,707C186.5,709.2 185,712.8 184,716C183,719.2 182.2,722.7 182,726C181.8,729.3 182.3,733 183,736C183.7,739 184.7,741.7 186,744C187.3,746.3 188.8,748.4 191,750C193.2,751.6 196.8,752.5 199,753.6C201.2,754.7 203.2,756.1 204,756.6L334,756.6C334.1,755.5 333.9,752.1 334.4,750C334.9,747.9 335.7,745.7 337,744C338.3,742.3 340.2,741 342,740C343.8,739 346.2,738.5 348,738C349.8,737.5 351.5,737.8 353,737C354.5,736.2 356,734.7 357,733C358,731.3 359,729 359,727C359,725 358,722.5 357,721C356,719.5 354.5,718.3 353,718C351.5,717.7 349.8,719.1 348,719C346.2,718.9 343.8,718.8 342,717.6C340.2,716.4 338.5,714.6 337,712C335.5,709.4 334.2,706 333,702C331.8,698 330.9,692.7 330,688C329.1,683.3 328.3,679 327.6,674C326.9,669 326.1,663.3 325.6,658C325.1,652.7 324.6,644.9 324.4,642.3Z" fill="#fde5a2" stroke="#d9c48b" stroke-width="0.35"/>
<path d="M217,726C217.7,724.9 219.5,721.2 221,719.5C222.5,717.8 223.8,717.1 226,716C228.2,714.9 231.3,713.5 234,713C236.7,712.5 239.3,713.7 242,713C244.7,712.3 247.5,710.8 250,709C252.5,707.2 254.8,704 257,702C259.2,700 260.8,698 263,697C265.2,696 268,695.9 270,696C272,696.1 273.3,697.4 275,697.4C276.7,697.4 278.2,696.2 280,696C281.8,695.8 284,695.6 286,696.4C288,697.2 289.8,699.2 292,701C294.2,702.8 296.7,705.3 299,707C301.3,708.7 303.5,710.2 306,711C308.5,711.8 311.7,711.4 314,711.6C316.3,711.8 318.2,711.3 320,712C321.8,712.7 323.7,714.3 325,716C326.3,717.7 327.3,720 328,722C328.7,724 329.2,725.9 329,728C328.8,730.1 328.2,732.6 327,734.5C325.8,736.4 324.2,738.2 322,739.5C319.8,740.8 316.7,741.4 314,742C311.3,742.6 308.3,742.2 306,743C303.7,743.8 301.7,745.3 300,747C298.3,748.7 297.2,751.4 296,753C294.8,754.6 293.5,756 293,756.6L263,756.6C262.3,756 260.5,754.6 259,753C257.5,751.4 255.8,748.8 254,747C252.2,745.2 250.3,743 248,742C245.7,741 242.7,741.3 240,741C237.3,740.7 234.5,740.7 232,740C229.5,739.3 227,738.3 225,737C223,735.7 221.3,733.8 220,732C218.7,730.2 217.5,727 217,726Z" fill="#fca311" stroke="#d88c0e" stroke-width="0.35"/>
<ellipse cx="275" cy="756.6" rx="3" ry="3.6" fill="#fde5a2" stroke="#d9c48b" stroke-width="0.35"/>
<ellipse cx="199.6" cy="728" rx="2.4" ry="5.6" fill="#fca311" stroke="#d88c0e" stroke-width="0.35"/>
<line x1="48.5" y1="643.3" x2="48.5" y2="756.6" stroke="#000" stroke-width="0.8" stroke-dasharray="1.6 3.1" opacity="0.19"/>
<line x1="86.3" y1="643.3" x2="86.3" y2="756.6" stroke="#000" stroke-width="0.8" stroke-dasharray="1.6 3.1" opacity="0.19"/>
<line x1="124.1" y1="643.3" x2="124.1" y2="756.6" stroke="#000" stroke-width="0.8" stroke-dasharray="1.6 3.1" opacity="0.19"/>
<line x1="161.8" y1="643.3" x2="161.8" y2="756.6" stroke="#000" stroke-width="0.8" stroke-dasharray="1.6 3.1" opacity="0.19"/>
<line x1="199.6" y1="643.3" x2="199.6" y2="756.6" stroke="#000" stroke-width="0.8" stroke-dasharray="1.6 3.1" opacity="0.19"/>
<line x1="237.4" y1="643.3" x2="237.4" y2="756.6" stroke="#000" stroke-width="0.8" stroke-dasharray="1.6 3.1" opacity="0.19"/>
<line x1="275.2" y1="643.3" x2="275.2" y2="756.6" stroke="#000" stroke-width="0.8" stroke-dasharray="1.6 3.1" opacity="0.19"/>
<line x1="313" y1="643.3" x2="313" y2="756.6" stroke="#000" stroke-width="0.8" stroke-dasharray="1.6 3.1" opacity="0.19"/>
<line x1="350.8" y1="643.3" x2="350.8" y2="756.6" stroke="#000" stroke-width="0.8" stroke-dasharray="1.6 3.1" opacity="0.19"/>
<line x1="388.5" y1="643.3" x2="388.5" y2="756.6" stroke="#000" stroke-width="0.8" stroke-dasharray="1.6 3.1" opacity="0.19"/>
<line x1="426.3" y1="643.3" x2="426.3" y2="756.6" stroke="#000" stroke-width="0.8" stroke-dasharray="1.6 3.1" opacity="0.19"/>
<line x1="464.1" y1="643.3" x2="464.1" y2="756.6" stroke="#000" stroke-width="0.8" stroke-dasharray="1.6 3.1" opacity="0.19"/>
<path d="M29.6,642.3L91,642.3C90.7,643.6 90.2,647.4 89,650C87.8,652.6 85.5,655.3 84,658C82.5,660.7 81.2,662.7 80,666C78.8,669.3 77.8,674 77,678C76.2,682 75.8,686.3 75,690C74.2,693.7 73.2,697 72,700C70.8,703 69.3,705.2 68,708C66.7,710.8 65.2,714 64,717C62.8,720 61.7,723.5 61,726C60.3,728.5 59.7,729.7 60,732C60.3,734.3 61.8,737.3 63,740C64.2,742.7 65.7,745.2 67,748C68.3,750.8 70.3,755.2 71,756.6L29.6,756.6Z" fill="#0ba05e" stroke="#098950" stroke-width="0.35"/>
<path d="M29.6,642.3L62,642.3C61.9,644.9 61.8,652.7 61.6,658C61.4,663.3 61.3,669 61,674C60.7,679 60.4,684 60,688C59.6,692 59.4,695.3 58.4,698C57.4,700.7 55.6,702.2 54,704C52.4,705.8 49.8,708.2 49,709C48.3,708.6 46.3,706.8 45,706.5C43.7,706.2 42.5,706.4 41,707C39.5,707.6 37.9,708.8 36,710C34.1,711.2 30.7,713.3 29.6,714Z" fill="#0b5aa5" stroke="#094d8d" stroke-width="0.35"/>
<path d="M48.6,721.6C50,725 52.9,727 52.9,730.5C52.9,733.5 51,735.4 48.6,735.4C46.2,735.4 44.3,733.5 44.3,730.5C44.3,727 47.2,725 48.6,721.6Z" fill="#c0edcb" stroke="#a5cbae" stroke-width="0.35"/>
<path d="M29.6,746C30.5,746.3 33.3,747.2 35,748C36.7,748.8 38.3,750.7 40,751C41.7,751.3 43.3,750.3 45,750C46.7,749.7 48.5,748.8 50,749C51.5,749.2 52.8,749.7 54,751C55.2,752.3 56.5,755.7 57,756.6L29.6,756.6Z" fill="#0b5aa5" stroke="#094d8d" stroke-width="0.35"/>
<path d="M81,756.6C81.5,755.8 83.2,753 84,752C84.8,751 85.3,750.4 86,750.4C86.7,750.4 87.2,751 88,752C88.8,753 90.5,755.8 91,756.6Z" fill="#0ba05e" stroke="#098950" stroke-width="0.35"/>
<path d="M437,642.3C437.2,644.2 437.6,649.7 438,654C438.4,658.3 439.2,663 439.6,668C440,673 440,679 440.4,684C440.8,689 441.3,693.7 442,698C442.7,702.3 443.6,706.3 444.4,710C445.2,713.7 446.3,716.7 447,720C447.7,723.3 448.2,727 448.4,730C448.6,733 448.4,735 448,738C447.6,741 446.6,744.9 446,748C445.4,751.1 444.7,755.2 444.4,756.6L483,756.6L483,642.3Z" fill="#0ba05e" stroke="#098950" stroke-width="0.35"/>
<path d="M448.6,642.3C448.7,644.9 448.8,652 449,658C449.2,664 449.3,671.7 449.6,678C449.9,684.3 450.4,691.3 451,696C451.6,700.7 452,703.2 453,706C454,708.8 455.5,711.5 457,713C458.5,714.5 460.2,714.8 462,715C463.8,715.2 466,714.4 468,714C470,713.6 472.2,712.8 474,712.4C475.8,712 477.5,711.7 479,711.6C480.5,711.5 482.3,711.9 483,712L483,642.3Z" fill="#0b5aa5" stroke="#094d8d" stroke-width="0.35"/>
<path d="M453,756.6C453.2,755.5 453.3,751.8 454,750C454.7,748.2 455.7,746.9 457,746C458.3,745.1 460,744.6 462,744.4C464,744.2 467,744.6 469,745C471,745.4 472.3,746.8 474,747C475.7,747.2 477.5,746.3 479,746C480.5,745.7 482.3,745.2 483,745L483,756.6Z" fill="#0b5aa5" stroke="#094d8d" stroke-width="0.35"/>
<text class="cl" x="82.4" y="662.8" transform="rotate(60 82.4 661)">12</text>
<text class="cl" x="43" y="707.8">8</text>
<text class="cl" x="59.6" y="730.4">12</text>
<text class="cl" x="41" y="753.8">8</text>
<text class="cl" x="176.4" y="658.4" transform="rotate(90 176.4 656.6)">19</text>
<text class="cl" x="154" y="708.2">19</text>
<text class="cl" x="150" y="750.8">19</text>
<text class="cl" x="220" y="670.8" transform="rotate(-75 220 669)">26</text>
<text class="cl" x="199" y="751.8">26</text>
<text class="cl" x="258" y="704.2" transform="rotate(-45 258 702.4)">30</text>
<text class="cl" x="247.6" y="743.4">30</text>
<text class="cl" x="306.6" y="712.2" transform="rotate(15 306.6 710.4)">30</text>
<text class="cl" x="328" y="676.8" transform="rotate(75 328 675)">26</text>
<text class="cl" x="346" y="740.4">26</text>
<text class="cl" x="392" y="715.8">19</text>
<text class="cl" x="388.4" y="747.8">19</text>
<text class="cl" x="440.6" y="667.4">12</text>
<text class="cl" x="448.4" y="738.8">12</text>
<text class="cl" x="461.4" y="717.4">8</text>
<text class="cl" x="475" y="748.8">8</text>
<line x1="48.5" y1="643.3" x2="48.5" y2="756.6" stroke="#000" stroke-width="0.8" stroke-dasharray="1.6 3.1" opacity="0.07"/>
<line x1="86.3" y1="643.3" x2="86.3" y2="756.6" stroke="#000" stroke-width="0.8" stroke-dasharray="1.6 3.1" opacity="0.07"/>
<line x1="124.1" y1="643.3" x2="124.1" y2="756.6" stroke="#000" stroke-width="0.8" stroke-dasharray="1.6 3.1" opacity="0.07"/>
<line x1="161.8" y1="643.3" x2="161.8" y2="756.6" stroke="#000" stroke-width="0.8" stroke-dasharray="1.6 3.1" opacity="0.07"/>
<line x1="199.6" y1="643.3" x2="199.6" y2="756.6" stroke="#000" stroke-width="0.8" stroke-dasharray="1.6 3.1" opacity="0.07"/>
<line x1="237.4" y1="643.3" x2="237.4" y2="756.6" stroke="#000" stroke-width="0.8" stroke-dasharray="1.6 3.1" opacity="0.07"/>
<line x1="275.2" y1="643.3" x2="275.2" y2="756.6" stroke="#000" stroke-width="0.8" stroke-dasharray="1.6 3.1" opacity="0.07"/>
<line x1="313" y1="643.3" x2="313" y2="756.6" stroke="#000" stroke-width="0.8" stroke-dasharray="1.6 3.1" opacity="0.07"/>
<line x1="350.8" y1="643.3" x2="350.8" y2="756.6" stroke="#000" stroke-width="0.8" stroke-dasharray="1.6 3.1" opacity="0.07"/>
<line x1="388.5" y1="643.3" x2="388.5" y2="756.6" stroke="#000" stroke-width="0.8" stroke-dasharray="1.6 3.1" opacity="0.07"/>
<line x1="426.3" y1="643.3" x2="426.3" y2="756.6" stroke="#000" stroke-width="0.8" stroke-dasharray="1.6 3.1" opacity="0.07"/>
<line x1="464.1" y1="643.3" x2="464.1" y2="756.6" stroke="#000" stroke-width="0.8" stroke-dasharray="1.6 3.1" opacity="0.07"/>
</g>
<rect x="29.9" y="642.5" width="452.9" height="113.8" fill="none" stroke="#9a9a9a" stroke-width="0.5"/>
<line x1="28" y1="642.7" x2="29.6" y2="642.7" stroke="#555" stroke-width="0.5"/>
<text class="yl" x="26.6" y="645.3">08:00</text>
<line x1="28" y1="652.1" x2="29.6" y2="652.1" stroke="#555" stroke-width="0.5"/>
<text class="yl" x="26.6" y="654.7">06:00</text>
<line x1="28" y1="661.5" x2="29.6" y2="661.5" stroke="#555" stroke-width="0.5"/>
<text class="yl" x="26.6" y="664.1">04:00</text>
<line x1="28" y1="670.9" x2="29.6" y2="670.9" stroke="#555" stroke-width="0.5"/>
<text class="yl" x="26.6" y="673.5">02:00</text>
<line x1="28" y1="680.4" x2="29.6" y2="680.4" stroke="#555" stroke-width="0.5"/>
<text class="yl" x="26.6" y="683">00:00</text>
<line x1="28" y1="689.8" x2="29.6" y2="689.8" stroke="#555" stroke-width="0.5"/>
<text class="yl" x="26.6" y="692.4">22:00</text>
<line x1="28" y1="699.2" x2="29.6" y2="699.2" stroke="#555" stroke-width="0.5"/>
<text class="yl" x="26.6" y="701.8">20:00</text>
<line x1="28" y1="708.6" x2="29.6" y2="708.6" stroke="#555" stroke-width="0.5"/>
<text class="yl" x="26.6" y="711.2">18:00</text>
<line x1="28" y1="718" x2="29.6" y2="718" stroke="#555" stroke-width="0.5"/>
<text class="yl" x="26.6" y="720.6">16:00</text>
<line x1="28" y1="727.5" x2="29.6" y2="727.5" stroke="#555" stroke-width="0.5"/>
<text class="yl" x="26.6" y="730.1">14:00</text>
<line x1="28" y1="736.9" x2="29.6" y2="736.9" stroke="#555" stroke-width="0.5"/>
<text class="yl" x="26.6" y="739.5">12:00</text>
<line x1="28" y1="746.3" x2="29.6" y2="746.3" stroke="#555" stroke-width="0.5"/>
<text class="yl" x="26.6" y="748.9">10:00</text>
<line x1="28" y1="755.7" x2="29.6" y2="755.7" stroke="#555" stroke-width="0.5"/>
<text class="yl" x="26.6" y="758.3">08:00</text>
<text class="ml" x="48.5" y="764.2">Jan</text>
<text class="ml" x="86.3" y="764.2">Feb</text>
<text class="ml" x="124.1" y="764.2">Mar</text>
<text class="ml" x="161.8" y="764.2">Apr</text>
<text class="ml" x="199.6" y="764.2">May</text>
<text class="ml" x="237.4" y="764.2">Jun</text>
<text class="ml" x="275.2" y="764.2">Jul</text>
<text class="ml" x="313" y="764.2">Aug</text>
<text class="ml" x="350.8" y="764.2">Sep</text>
<text class="ml" x="388.5" y="764.2">Oct</text>
<text class="ml" x="426.3" y="764.2">Nov</text>
<text class="ml" x="464.1" y="764.2">Dec</text>
<rect x="486" y="642.3" width="12.4" height="16.5" fill="#f98a0e"/>
<rect x="486" y="658.6" width="12.4" height="16.5" fill="#fca311"/>
<rect x="486" y="675" width="12.4" height="16.5" fill="#fde5a2"/>
<rect x="486" y="691.3" width="12.4" height="16.5" fill="#ffffff"/>
<rect x="486" y="707.6" width="12.4" height="16.5" fill="#c0edcb"/>
<rect x="486" y="723.9" width="12.4" height="16.5" fill="#0ba05e"/>
<rect x="486" y="740.3" width="12.4" height="16.5" fill="#0b5aa5"/>
<rect x="486" y="642.3" width="12.4" height="114.3" fill="none" stroke="#aaa" stroke-width="0.4"/>
<text class="lg" x="502.3" y="651.8">Very hot</text>
<text class="lg" x="502.3" y="660.8">34<tspan dx="-0.7" font-size="6">℃</tspan></text>
<text class="lg" x="502.3" y="669.7">Hot</text>
<text class="lg" x="502.3" y="677.6">30<tspan dx="-0.7" font-size="6">℃</tspan></text>
<text class="lg" x="502.3" y="685.9">Slightly hot</text>
<text class="lg" x="502.3" y="693.9">26<tspan dx="-0.7" font-size="6">℃</tspan></text>
<text class="lg" x="502.3" y="702.8">Comfortable</text>
<text class="lg" x="502.3" y="710.1">19<tspan dx="-0.7" font-size="6">℃</tspan></text>
<text class="lg" x="502.3" y="718.6">Slightly cold</text>
<text class="lg" x="502.3" y="727.2">12<tspan dx="-0.7" font-size="6">℃</tspan></text>
<text class="lg" x="502.3" y="735.1">Cold</text>
<text class="lg" x="502.3" y="743.1">8<tspan dx="-0.7" font-size="6">℃</tspan></text>
<text class="lg" x="502.3" y="751.4">Very cold</text>
<text class="cap" x="67.2" y="159.2" textLength="413.6" lengthAdjust="spacing">(<tspan font-weight="bold">a</tspan>) The indoor air temperature of the prototype without the four nature elements</text>
<text class="cap" x="105.5" y="314.9" textLength="336.5" lengthAdjust="spacing">(<tspan font-weight="bold">b</tspan>) The indoor air temperature of the prototype with manila grass</text>
<text class="cap" x="124.9" y="470.9" textLength="297.4" lengthAdjust="spacing">(<tspan font-weight="bold">c</tspan>) The indoor air temperature of the prototype with palm</text>
<text class="cap" x="122.8" y="629.6" textLength="301.2" lengthAdjust="spacing">(<tspan font-weight="bold">d</tspan>) The indoor air temperature of the prototype with water</text>
<text class="cap" x="103.8" y="788.4" textLength="339.9" lengthAdjust="spacing">(<tspan font-weight="bold">e</tspan>) The indoor air temperature of the prototype with camphor tree</text>
</svg>
</body></html>
